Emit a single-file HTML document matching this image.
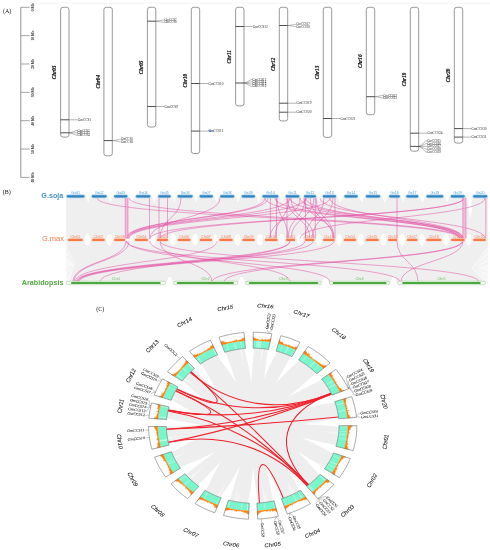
<!DOCTYPE html>
<html><head><meta charset="utf-8"><style>
html,body{margin:0;padding:0;background:#fff;overflow:hidden;}
svg{display:block;}
</style></head><body>
<svg width="490" height="550" viewBox="0 0 490 550">
<rect width="490" height="550" fill="#fff"/>
<line x1="38" y1="3.2" x2="490" y2="3.2" stroke="#f1f1f1" stroke-width="0.8"/>
<text x="3.0" y="12.9" font-family="'Liberation Serif', serif" font-size="6.0" fill="#111">(A)</text>
<line x1="20.8" y1="7.3" x2="20.8" y2="177.4" stroke="#666" stroke-width="0.7"/>
<line x1="20.8" y1="7.30" x2="29.6" y2="7.30" stroke="#666" stroke-width="0.6"/>
<text transform="translate(34.1,7.30) rotate(-90)" text-anchor="middle" font-family="'Liberation Serif', serif" font-size="3.7" fill="#333" stroke="#333" stroke-width="0.12">0 Mb</text>
<line x1="20.8" y1="35.65" x2="29.6" y2="35.65" stroke="#666" stroke-width="0.6"/>
<text transform="translate(34.1,35.65) rotate(-90)" text-anchor="middle" font-family="'Liberation Serif', serif" font-size="3.7" fill="#333" stroke="#333" stroke-width="0.12">10 Mb</text>
<line x1="20.8" y1="64.00" x2="29.6" y2="64.00" stroke="#666" stroke-width="0.6"/>
<text transform="translate(34.1,64.00) rotate(-90)" text-anchor="middle" font-family="'Liberation Serif', serif" font-size="3.7" fill="#333" stroke="#333" stroke-width="0.12">20 Mb</text>
<line x1="20.8" y1="92.35" x2="29.6" y2="92.35" stroke="#666" stroke-width="0.6"/>
<text transform="translate(34.1,92.35) rotate(-90)" text-anchor="middle" font-family="'Liberation Serif', serif" font-size="3.7" fill="#333" stroke="#333" stroke-width="0.12">30 Mb</text>
<line x1="20.8" y1="120.70" x2="29.6" y2="120.70" stroke="#666" stroke-width="0.6"/>
<text transform="translate(34.1,120.70) rotate(-90)" text-anchor="middle" font-family="'Liberation Serif', serif" font-size="3.7" fill="#333" stroke="#333" stroke-width="0.12">40 Mb</text>
<line x1="20.8" y1="149.05" x2="29.6" y2="149.05" stroke="#666" stroke-width="0.6"/>
<text transform="translate(34.1,149.05) rotate(-90)" text-anchor="middle" font-family="'Liberation Serif', serif" font-size="3.7" fill="#333" stroke="#333" stroke-width="0.12">50 Mb</text>
<line x1="20.8" y1="177.40" x2="29.6" y2="177.40" stroke="#666" stroke-width="0.6"/>
<text transform="translate(34.1,177.40) rotate(-90)" text-anchor="middle" font-family="'Liberation Serif', serif" font-size="3.7" fill="#333" stroke="#333" stroke-width="0.12">60 Mb</text>
<rect x="60.6" y="7.3" width="8.4" height="129.79" rx="2.4" fill="#fff" stroke="#777" stroke-width="0.75"/>
<text transform="translate(56.30,72.39) rotate(-90)" text-anchor="middle" font-family="'Liberation Serif', serif" font-weight="bold" font-style="italic" font-size="5.2" fill="#111" stroke="#111" stroke-width="0.16">Chr03</text>
<line x1="60.6" y1="119.8" x2="69.0" y2="119.8" stroke="#222" stroke-width="0.8"/>
<line x1="69.0" y1="119.8" x2="77.5" y2="119.8" stroke="#555" stroke-width="0.45"/>
<text x="77.80" y="121.05" font-family="'Liberation Serif', serif" font-size="3.4" fill="#222">GmCCS1</text>
<line x1="60.6" y1="132.8" x2="69.0" y2="132.8" stroke="#222" stroke-width="0.8"/>
<path d="M69.00 132.8 L70.20 132.8 L76.20 130.50 L77.40 130.50" fill="none" stroke="#555" stroke-width="0.4"/>
<text x="77.60" y="131.50" font-family="'Liberation Serif', serif" font-size="3.1" fill="#222">GmCCS2</text>
<path d="M69.00 132.8 L70.20 132.8 L76.20 132.80 L77.40 132.80" fill="none" stroke="#555" stroke-width="0.4"/>
<text x="77.60" y="133.80" font-family="'Liberation Serif', serif" font-size="3.1" fill="#222">GmCCS3</text>
<path d="M69.00 132.8 L70.20 132.8 L76.20 135.10 L77.40 135.10" fill="none" stroke="#555" stroke-width="0.4"/>
<text x="77.60" y="136.10" font-family="'Liberation Serif', serif" font-size="3.1" fill="#222">GmCCS4</text>
<rect x="103.9" y="7.3" width="8.4" height="148.53" rx="2.4" fill="#fff" stroke="#777" stroke-width="0.75"/>
<text transform="translate(99.60,81.76) rotate(-90)" text-anchor="middle" font-family="'Liberation Serif', serif" font-weight="bold" font-style="italic" font-size="5.2" fill="#111" stroke="#111" stroke-width="0.16">Chr04</text>
<line x1="103.9" y1="140.6" x2="112.30000000000001" y2="140.6" stroke="#222" stroke-width="0.8"/>
<path d="M112.30 140.6 L113.50 140.6 L119.50 139.45 L120.70 139.45" fill="none" stroke="#555" stroke-width="0.4"/>
<text x="120.90" y="140.45" font-family="'Liberation Serif', serif" font-size="3.1" fill="#222">GmCCS5</text>
<path d="M112.30 140.6 L113.50 140.6 L119.50 141.75 L120.70 141.75" fill="none" stroke="#555" stroke-width="0.4"/>
<text x="120.90" y="142.75" font-family="'Liberation Serif', serif" font-size="3.1" fill="#222">GmCCS6</text>
<rect x="147.4" y="7.3" width="8.4" height="119.72" rx="2.4" fill="#fff" stroke="#777" stroke-width="0.75"/>
<text transform="translate(143.10,67.36) rotate(-90)" text-anchor="middle" font-family="'Liberation Serif', serif" font-weight="bold" font-style="italic" font-size="5.2" fill="#111" stroke="#111" stroke-width="0.16">Chr05</text>
<line x1="147.4" y1="21.2" x2="155.8" y2="21.2" stroke="#222" stroke-width="0.8"/>
<path d="M155.80 21.2 L157.00 21.2 L163.00 20.05 L164.20 20.05" fill="none" stroke="#555" stroke-width="0.4"/>
<text x="164.40" y="21.05" font-family="'Liberation Serif', serif" font-size="3.1" fill="#222">GmCCS7</text>
<path d="M155.80 21.2 L157.00 21.2 L163.00 22.35 L164.20 22.35" fill="none" stroke="#555" stroke-width="0.4"/>
<text x="164.40" y="23.35" font-family="'Liberation Serif', serif" font-size="3.1" fill="#222">GmCCS8</text>
<line x1="147.4" y1="106.5" x2="155.8" y2="106.5" stroke="#222" stroke-width="0.8"/>
<line x1="155.8" y1="106.5" x2="164.3" y2="106.5" stroke="#555" stroke-width="0.45"/>
<text x="164.60" y="107.75" font-family="'Liberation Serif', serif" font-size="3.4" fill="#222">GmCCS9</text>
<rect x="191.3" y="7.3" width="8.4" height="146.20" rx="2.4" fill="#fff" stroke="#777" stroke-width="0.75"/>
<text transform="translate(187.00,80.60) rotate(-90)" text-anchor="middle" font-family="'Liberation Serif', serif" font-weight="bold" font-style="italic" font-size="5.2" fill="#111" stroke="#111" stroke-width="0.16">Chr10</text>
<line x1="191.3" y1="83.5" x2="199.70000000000002" y2="83.5" stroke="#222" stroke-width="0.8"/>
<line x1="199.70000000000002" y1="83.5" x2="208.20000000000002" y2="83.5" stroke="#555" stroke-width="0.45"/>
<text x="208.50" y="84.75" font-family="'Liberation Serif', serif" font-size="3.4" fill="#222">GmCCS10</text>
<line x1="191.3" y1="131.1" x2="199.70000000000002" y2="131.1" stroke="#222" stroke-width="0.8"/>
<line x1="199.70000000000002" y1="131.1" x2="208.20000000000002" y2="131.1" stroke="#555" stroke-width="0.45"/>
<text x="208.50" y="132.35" font-family="'Liberation Serif', serif" font-size="3.4" fill="#222">GmCCS11</text>
<rect x="235.6" y="7.3" width="8.4" height="98.57" rx="2.4" fill="#fff" stroke="#777" stroke-width="0.75"/>
<text transform="translate(231.30,56.79) rotate(-90)" text-anchor="middle" font-family="'Liberation Serif', serif" font-weight="bold" font-style="italic" font-size="5.2" fill="#111" stroke="#111" stroke-width="0.16">Chr11</text>
<line x1="235.6" y1="26.5" x2="244.0" y2="26.5" stroke="#222" stroke-width="0.8"/>
<line x1="244.0" y1="26.5" x2="252.5" y2="26.5" stroke="#555" stroke-width="0.45"/>
<text x="252.80" y="27.75" font-family="'Liberation Serif', serif" font-size="3.4" fill="#222">GmCCS12</text>
<line x1="235.6" y1="83.0" x2="244.0" y2="83.0" stroke="#222" stroke-width="0.8"/>
<path d="M244.00 83.0 L245.20 83.0 L251.20 79.55 L252.40 79.55" fill="none" stroke="#555" stroke-width="0.4"/>
<text x="252.60" y="80.55" font-family="'Liberation Serif', serif" font-size="3.1" fill="#222">GmCCS13</text>
<path d="M244.00 83.0 L245.20 83.0 L251.20 81.85 L252.40 81.85" fill="none" stroke="#555" stroke-width="0.4"/>
<text x="252.60" y="82.85" font-family="'Liberation Serif', serif" font-size="3.1" fill="#222">GmCCS14</text>
<path d="M244.00 83.0 L245.20 83.0 L251.20 84.15 L252.40 84.15" fill="none" stroke="#555" stroke-width="0.4"/>
<text x="252.60" y="85.15" font-family="'Liberation Serif', serif" font-size="3.1" fill="#222">GmCCS15</text>
<path d="M244.00 83.0 L245.20 83.0 L251.20 86.45 L252.40 86.45" fill="none" stroke="#555" stroke-width="0.4"/>
<text x="252.60" y="87.45" font-family="'Liberation Serif', serif" font-size="3.1" fill="#222">GmCCS16</text>
<rect x="279.3" y="7.3" width="8.4" height="113.66" rx="2.4" fill="#fff" stroke="#777" stroke-width="0.75"/>
<text transform="translate(275.00,64.33) rotate(-90)" text-anchor="middle" font-family="'Liberation Serif', serif" font-weight="bold" font-style="italic" font-size="5.2" fill="#111" stroke="#111" stroke-width="0.16">Chr12</text>
<line x1="279.3" y1="25.5" x2="287.7" y2="25.5" stroke="#222" stroke-width="0.8"/>
<path d="M287.70 25.5 L288.90 25.5 L294.90 24.35 L296.10 24.35" fill="none" stroke="#555" stroke-width="0.4"/>
<text x="296.30" y="25.35" font-family="'Liberation Serif', serif" font-size="3.1" fill="#222">GmCCS17</text>
<path d="M287.70 25.5 L288.90 25.5 L294.90 26.65 L296.10 26.65" fill="none" stroke="#555" stroke-width="0.4"/>
<text x="296.30" y="27.65" font-family="'Liberation Serif', serif" font-size="3.1" fill="#222">GmCCS18</text>
<line x1="279.3" y1="103.2" x2="287.7" y2="103.2" stroke="#222" stroke-width="0.8"/>
<line x1="287.7" y1="103.2" x2="296.2" y2="103.2" stroke="#555" stroke-width="0.45"/>
<text x="296.50" y="104.45" font-family="'Liberation Serif', serif" font-size="3.4" fill="#222">GmCCS19</text>
<line x1="279.3" y1="112.2" x2="287.7" y2="112.2" stroke="#222" stroke-width="0.8"/>
<line x1="287.7" y1="112.2" x2="296.2" y2="112.2" stroke="#555" stroke-width="0.45"/>
<text x="296.50" y="113.45" font-family="'Liberation Serif', serif" font-size="3.4" fill="#222">GmCCS20</text>
<rect x="323.3" y="7.3" width="8.4" height="130.04" rx="2.4" fill="#fff" stroke="#777" stroke-width="0.75"/>
<text transform="translate(319.00,72.52) rotate(-90)" text-anchor="middle" font-family="'Liberation Serif', serif" font-weight="bold" font-style="italic" font-size="5.2" fill="#111" stroke="#111" stroke-width="0.16">Chr13</text>
<line x1="323.3" y1="118.5" x2="331.7" y2="118.5" stroke="#222" stroke-width="0.8"/>
<line x1="331.7" y1="118.5" x2="340.2" y2="118.5" stroke="#555" stroke-width="0.45"/>
<text x="340.50" y="119.75" font-family="'Liberation Serif', serif" font-size="3.4" fill="#222">GmCCS21</text>
<rect x="366.3" y="7.3" width="8.4" height="107.42" rx="2.4" fill="#fff" stroke="#777" stroke-width="0.75"/>
<text transform="translate(362.00,61.21) rotate(-90)" text-anchor="middle" font-family="'Liberation Serif', serif" font-weight="bold" font-style="italic" font-size="5.2" fill="#111" stroke="#111" stroke-width="0.16">Chr16</text>
<line x1="366.3" y1="96.7" x2="374.7" y2="96.7" stroke="#222" stroke-width="0.8"/>
<path d="M374.70 96.7 L375.90 96.7 L381.90 95.55 L383.10 95.55" fill="none" stroke="#555" stroke-width="0.4"/>
<text x="383.30" y="96.55" font-family="'Liberation Serif', serif" font-size="3.1" fill="#222">GmCCS22</text>
<path d="M374.70 96.7 L375.90 96.7 L381.90 97.85 L383.10 97.85" fill="none" stroke="#555" stroke-width="0.4"/>
<text x="383.30" y="98.85" font-family="'Liberation Serif', serif" font-size="3.1" fill="#222">GmCCS23</text>
<rect x="410.3" y="7.3" width="8.4" height="143.88" rx="2.4" fill="#fff" stroke="#777" stroke-width="0.75"/>
<text transform="translate(406.00,79.44) rotate(-90)" text-anchor="middle" font-family="'Liberation Serif', serif" font-weight="bold" font-style="italic" font-size="5.2" fill="#111" stroke="#111" stroke-width="0.16">Chr19</text>
<line x1="410.3" y1="133.2" x2="418.7" y2="133.2" stroke="#222" stroke-width="0.8"/>
<line x1="418.7" y1="133.2" x2="427.2" y2="133.2" stroke="#555" stroke-width="0.45"/>
<text x="427.50" y="134.45" font-family="'Liberation Serif', serif" font-size="3.4" fill="#222">GmCCS24</text>
<line x1="410.3" y1="146.4" x2="418.7" y2="146.4" stroke="#222" stroke-width="0.8"/>
<path d="M418.70 146.4 L419.90 146.4 L425.90 140.80 L427.10 140.80" fill="none" stroke="#555" stroke-width="0.4"/>
<text x="427.30" y="141.80" font-family="'Liberation Serif', serif" font-size="3.1" fill="#222">GmCCS25</text>
<path d="M418.70 146.4 L419.90 146.4 L425.90 143.60 L427.10 143.60" fill="none" stroke="#555" stroke-width="0.4"/>
<text x="427.30" y="144.60" font-family="'Liberation Serif', serif" font-size="3.1" fill="#222">GmCCS26</text>
<path d="M418.70 146.4 L419.90 146.4 L425.90 146.40 L427.10 146.40" fill="none" stroke="#555" stroke-width="0.4"/>
<text x="427.30" y="147.40" font-family="'Liberation Serif', serif" font-size="3.1" fill="#222">GmCCS27</text>
<path d="M418.70 146.4 L419.90 146.4 L425.90 149.20 L427.10 149.20" fill="none" stroke="#555" stroke-width="0.4"/>
<text x="427.30" y="150.20" font-family="'Liberation Serif', serif" font-size="3.1" fill="#222">GmCCS28</text>
<path d="M418.70 146.4 L419.90 146.4 L425.90 152.00 L427.10 152.00" fill="none" stroke="#555" stroke-width="0.4"/>
<text x="427.30" y="153.00" font-family="'Liberation Serif', serif" font-size="3.1" fill="#222">GmCCS29</text>
<rect x="454.3" y="7.3" width="8.4" height="135.80" rx="2.4" fill="#fff" stroke="#777" stroke-width="0.75"/>
<text transform="translate(450.00,75.40) rotate(-90)" text-anchor="middle" font-family="'Liberation Serif', serif" font-weight="bold" font-style="italic" font-size="5.2" fill="#111" stroke="#111" stroke-width="0.16">Chr20</text>
<line x1="454.3" y1="128.6" x2="462.7" y2="128.6" stroke="#222" stroke-width="0.8"/>
<line x1="462.7" y1="128.6" x2="471.2" y2="128.6" stroke="#555" stroke-width="0.45"/>
<text x="471.50" y="129.85" font-family="'Liberation Serif', serif" font-size="3.4" fill="#222">GmCCS30</text>
<line x1="454.3" y1="137.1" x2="462.7" y2="137.1" stroke="#222" stroke-width="0.8"/>
<line x1="462.7" y1="137.1" x2="471.2" y2="137.1" stroke="#555" stroke-width="0.45"/>
<text x="471.50" y="138.35" font-family="'Liberation Serif', serif" font-size="3.4" fill="#222">GmCCS31</text>
<ellipse cx="210.2" cy="131.1" rx="1.5" ry="1.1" fill="#4f86c2" opacity="0.9"/>
<text x="2.8" y="194.0" font-family="'Liberation Serif', serif" font-size="6.0" fill="#111">(B)</text>
<rect x="66.2" y="197" width="421.8" height="86" fill="#efefef"/>
<path d="M85.70 196 L88.15 202.5 L90.60 196 Z" fill="#fff"/>
<path d="M107.80 196 L110.35 202.5 L112.90 196 Z" fill="#fff"/>
<path d="M128.60 196 L131.65 202.5 L134.70 196 Z" fill="#fff"/>
<path d="M151.60 196 L154.30 202.5 L157.00 196 Z" fill="#fff"/>
<path d="M171.90 196 L174.15 202.5 L176.40 196 Z" fill="#fff"/>
<path d="M193.80 196 L196.10 202.5 L198.40 196 Z" fill="#fff"/>
<path d="M214.10 196 L216.55 202.5 L219.00 196 Z" fill="#fff"/>
<path d="M235.40 196 L237.95 202.5 L240.50 196 Z" fill="#fff"/>
<path d="M256.20 196 L258.75 202.5 L261.30 196 Z" fill="#fff"/>
<path d="M279.50 196 L281.95 202.5 L284.40 196 Z" fill="#fff"/>
<path d="M300.60 196 L301.70 202.5 L302.80 196 Z" fill="#fff"/>
<path d="M317.20 196 L319.40 202.5 L321.60 196 Z" fill="#fff"/>
<path d="M337.30 196 L340.25 202.5 L343.20 196 Z" fill="#fff"/>
<path d="M358.90 196 L361.80 202.5 L364.70 196 Z" fill="#fff"/>
<path d="M381.40 196 L384.65 202.5 L387.90 196 Z" fill="#fff"/>
<path d="M401.10 196 L403.05 202.5 L405.00 196 Z" fill="#fff"/>
<path d="M419.50 196 L422.40 202.5 L425.30 196 Z" fill="#fff"/>
<path d="M444.50 196 L447.05 202.5 L449.60 196 Z" fill="#fff"/>
<path d="M466.00 196 L468.95 202.5 L471.90 196 Z" fill="#fff"/>
<ellipse cx="87.35" cy="239.70" rx="2.92" ry="5.8" fill="#fff"/>
<ellipse cx="109.40" cy="239.70" rx="2.95" ry="5.8" fill="#fff"/>
<ellipse cx="130.00" cy="239.70" rx="3.10" ry="5.8" fill="#fff"/>
<ellipse cx="152.40" cy="239.70" rx="2.81" ry="5.8" fill="#fff"/>
<ellipse cx="172.85" cy="239.70" rx="3.06" ry="5.8" fill="#fff"/>
<ellipse cx="195.15" cy="239.70" rx="2.92" ry="5.8" fill="#fff"/>
<ellipse cx="215.65" cy="239.70" rx="2.12" ry="5.8" fill="#fff"/>
<ellipse cx="237.55" cy="239.70" rx="3.06" ry="5.8" fill="#fff"/>
<ellipse cx="259.85" cy="239.70" rx="3.28" ry="5.8" fill="#fff"/>
<ellipse cx="281.75" cy="239.70" rx="2.63" ry="5.8" fill="#fff"/>
<ellipse cx="300.00" cy="239.70" rx="3.10" ry="5.8" fill="#fff"/>
<ellipse cx="318.65" cy="239.70" rx="2.77" ry="5.8" fill="#fff"/>
<ellipse cx="339.25" cy="239.70" rx="2.92" ry="5.8" fill="#fff"/>
<ellipse cx="361.00" cy="239.70" rx="3.10" ry="5.8" fill="#fff"/>
<ellipse cx="383.35" cy="239.70" rx="2.92" ry="5.8" fill="#fff"/>
<ellipse cx="402.10" cy="239.70" rx="3.02" ry="5.8" fill="#fff"/>
<ellipse cx="421.90" cy="239.70" rx="2.81" ry="5.8" fill="#fff"/>
<ellipse cx="446.20" cy="239.70" rx="3.10" ry="5.8" fill="#fff"/>
<ellipse cx="468.95" cy="239.70" rx="2.63" ry="5.8" fill="#fff"/>
<path d="M165.80 284 L168.65 277 L170.65 277 L173.50 284 Z" fill="#fff"/>
<path d="M237.90 284 L240.70 277 L242.70 277 L245.50 284 Z" fill="#fff"/>
<path d="M321.30 284 L324.30 277 L326.30 277 L329.30 284 Z" fill="#fff"/>
<path d="M389.80 284 L392.65 277 L394.65 277 L397.50 284 Z" fill="#fff"/>
<path d="M66 246 L75 263 L69 282 L66 282 Z" fill="#f8f8f8"/>
<line x1="66" y1="250" x2="73" y2="262" stroke="#e8e8e8" stroke-width="0.6"/>
<line x1="66" y1="256" x2="74" y2="264" stroke="#e8e8e8" stroke-width="0.6"/>
<line x1="66" y1="270" x2="72" y2="266" stroke="#e8e8e8" stroke-width="0.6"/>
<line x1="67" y1="276" x2="73" y2="267" stroke="#e8e8e8" stroke-width="0.6"/>
<path d="M488.5 246 L471 268 L485 282 L488.5 282 Z" fill="#f7f7f7"/>
<line x1="488" y1="250" x2="473" y2="267" stroke="#e9e9e9" stroke-width="0.6"/>
<line x1="488" y1="256" x2="474" y2="268" stroke="#e9e9e9" stroke-width="0.6"/>
<line x1="488" y1="263" x2="474" y2="269" stroke="#e9e9e9" stroke-width="0.6"/>
<line x1="487" y1="272" x2="475" y2="269" stroke="#e9e9e9" stroke-width="0.6"/>
<line x1="486" y1="278" x2="476" y2="270" stroke="#e9e9e9" stroke-width="0.6"/>
<path d="M467.2 197 L471.8 197 Q470.6 203 472 209 Q471.2 214 470.2 219 Q469.4 214 468.6 209 Q467.6 203 467.2 197 Z" fill="#fff"/>
<path d="M97 198.0 C97 218.25 460 218.25 460 238.5" fill="none" stroke="#e2449f" stroke-width="0.6" stroke-opacity="0.8"/>
<path d="M129 198.0 C129 218.25 462 218.25 462 238.5" fill="none" stroke="#e2449f" stroke-width="0.6" stroke-opacity="0.8"/>
<path d="M149.5 198.0 C149.5 218.25 149.5 218.25 149.5 238.5" fill="none" stroke="#e2449f" stroke-width="0.6" stroke-opacity="0.8"/>
<path d="M159 198.0 C159 218.25 159 218.25 159 238.5" fill="none" stroke="#e2449f" stroke-width="0.6" stroke-opacity="0.8"/>
<path d="M167.5 198.0 C167.5 218.25 167.5 218.25 167.5 238.5" fill="none" stroke="#e2449f" stroke-width="0.6" stroke-opacity="0.8"/>
<path d="M181 198.0 C181 218.25 160 218.25 160 238.5" fill="none" stroke="#e2449f" stroke-width="0.6" stroke-opacity="0.8"/>
<path d="M220 198.0 C220 218.25 150 218.25 150 238.5" fill="none" stroke="#e2449f" stroke-width="0.6" stroke-opacity="0.8"/>
<path d="M265 198.0 C265 218.25 126 218.25 126 238.5" fill="none" stroke="#e2449f" stroke-width="0.6" stroke-opacity="0.8"/>
<path d="M268 198.0 C268 218.25 127 218.25 127 238.5" fill="none" stroke="#e2449f" stroke-width="0.6" stroke-opacity="0.8"/>
<path d="M290 198.0 C290 218.25 127.5 218.25 127.5 238.5" fill="none" stroke="#e2449f" stroke-width="0.6" stroke-opacity="0.8"/>
<path d="M306 198.0 C306 218.25 128.5 218.25 128.5 238.5" fill="none" stroke="#e2449f" stroke-width="0.6" stroke-opacity="0.8"/>
<path d="M330 198.0 C330 218.25 129 218.25 129 238.5" fill="none" stroke="#e2449f" stroke-width="0.6" stroke-opacity="0.8"/>
<path d="M270.4 198.0 C270.4 218.25 270.4 218.25 270.4 238.5" fill="none" stroke="#e2449f" stroke-width="0.6" stroke-opacity="0.8"/>
<path d="M276.5 198.0 C276.5 218.25 276.5 218.25 276.5 238.5" fill="none" stroke="#e2449f" stroke-width="0.6" stroke-opacity="0.8"/>
<path d="M287 198.0 C287 218.25 287 218.25 287 238.5" fill="none" stroke="#e2449f" stroke-width="0.6" stroke-opacity="0.8"/>
<path d="M305.5 198.0 C305.5 218.25 305.5 218.25 305.5 238.5" fill="none" stroke="#e2449f" stroke-width="0.6" stroke-opacity="0.8"/>
<path d="M315.3 198.0 C315.3 218.25 315.3 218.25 315.3 238.5" fill="none" stroke="#e2449f" stroke-width="0.6" stroke-opacity="0.8"/>
<path d="M335 198.0 C335 218.25 335 218.25 335 238.5" fill="none" stroke="#e2449f" stroke-width="0.6" stroke-opacity="0.8"/>
<path d="M287 198.0 C287 218.25 310 218.25 310 238.5" fill="none" stroke="#e2449f" stroke-width="0.6" stroke-opacity="0.8"/>
<path d="M305 198.0 C305 218.25 288 218.25 288 238.5" fill="none" stroke="#e2449f" stroke-width="0.6" stroke-opacity="0.8"/>
<path d="M310 198.0 C310 218.25 333 218.25 333 238.5" fill="none" stroke="#e2449f" stroke-width="0.6" stroke-opacity="0.8"/>
<path d="M333 198.0 C333 218.25 312 218.25 312 238.5" fill="none" stroke="#e2449f" stroke-width="0.6" stroke-opacity="0.8"/>
<path d="M277 198.0 C277 218.25 288 218.25 288 238.5" fill="none" stroke="#e2449f" stroke-width="0.6" stroke-opacity="0.8"/>
<path d="M289 198.0 C289 218.25 275 218.25 275 238.5" fill="none" stroke="#e2449f" stroke-width="0.6" stroke-opacity="0.8"/>
<path d="M291 198.0 C291 218.25 314 218.25 314 238.5" fill="none" stroke="#e2449f" stroke-width="0.6" stroke-opacity="0.8"/>
<path d="M314 198.0 C314 218.25 291 218.25 291 238.5" fill="none" stroke="#e2449f" stroke-width="0.6" stroke-opacity="0.8"/>
<path d="M304 198.0 C304 218.25 334 218.25 334 238.5" fill="none" stroke="#e2449f" stroke-width="0.6" stroke-opacity="0.8"/>
<path d="M324 198.0 C324 218.25 305 218.25 305 238.5" fill="none" stroke="#e2449f" stroke-width="0.6" stroke-opacity="0.8"/>
<path d="M316 198.0 C316 218.25 334 218.25 334 238.5" fill="none" stroke="#e2449f" stroke-width="0.6" stroke-opacity="0.8"/>
<path d="M300 198.0 C300 218.25 270 218.25 270 238.5" fill="none" stroke="#e2449f" stroke-width="0.6" stroke-opacity="0.8"/>
<path d="M397 198.0 C397 218.25 397 218.25 397 238.5" fill="none" stroke="#e2449f" stroke-width="0.6" stroke-opacity="0.8"/>
<path d="M464 198.0 C464 218.25 160 218.25 160 238.5" fill="none" stroke="#e2449f" stroke-width="0.6" stroke-opacity="0.8"/>
<path d="M464 198.0 C464 218.25 150 218.25 150 238.5" fill="none" stroke="#e2449f" stroke-width="0.6" stroke-opacity="0.8"/>
<path d="M485 198.0 C485 218.25 300 218.25 300 238.5" fill="none" stroke="#e2449f" stroke-width="0.6" stroke-opacity="0.8"/>
<path d="M265 198.0 C265 218.25 460 218.25 460 238.5" fill="none" stroke="#e2449f" stroke-width="0.6" stroke-opacity="0.8"/>
<path d="M290 198.0 C290 218.25 461 218.25 461 238.5" fill="none" stroke="#e2449f" stroke-width="0.6" stroke-opacity="0.8"/>
<path d="M306 198.0 C306 218.25 462 218.25 462 238.5" fill="none" stroke="#e2449f" stroke-width="0.6" stroke-opacity="0.8"/>
<path d="M330 198.0 C330 218.25 463 218.25 463 238.5" fill="none" stroke="#e2449f" stroke-width="0.6" stroke-opacity="0.8"/>
<path d="M320 198.0 C320 218.25 485 218.25 485 238.5" fill="none" stroke="#e2449f" stroke-width="0.6" stroke-opacity="0.8"/>
<path d="M300 198.0 C300 218.25 463 218.25 463 238.5" fill="none" stroke="#e2449f" stroke-width="0.6" stroke-opacity="0.8"/>
<path d="M275 198.0 C275 218.25 459 218.25 459 238.5" fill="none" stroke="#e2449f" stroke-width="0.6" stroke-opacity="0.8"/>
<path d="M485.8 198.0 C485.8 218.25 485.8 218.25 485.8 238.5" fill="none" stroke="#e2449f" stroke-width="0.6" stroke-opacity="0.8"/>
<rect x="125.2" y="198.0" width="2.80" height="40.5" fill="#f4a6d0" fill-opacity="0.7"/>
<line x1="125.2" y1="198.0" x2="125.2" y2="238.5" stroke="#e2449f" stroke-width="0.5" stroke-opacity="0.8"/>
<line x1="128.0" y1="198.0" x2="128.0" y2="238.5" stroke="#e2449f" stroke-width="0.5" stroke-opacity="0.8"/>
<rect x="462.8" y="198.0" width="3.20" height="40.5" fill="#f4a6d0" fill-opacity="0.7"/>
<line x1="462.8" y1="198.0" x2="462.8" y2="238.5" stroke="#e2449f" stroke-width="0.5" stroke-opacity="0.8"/>
<line x1="466.0" y1="198.0" x2="466.0" y2="238.5" stroke="#e2449f" stroke-width="0.5" stroke-opacity="0.8"/>
<path d="M126 241.0 C126 261.5 73 261.5 73 282.0" fill="none" stroke="#e2449f" stroke-width="0.6" stroke-opacity="0.8"/>
<path d="M129 241.0 C129 261.5 74 261.5 74 282.0" fill="none" stroke="#e2449f" stroke-width="0.6" stroke-opacity="0.8"/>
<path d="M217 241.0 C217 261.5 75 261.5 75 282.0" fill="none" stroke="#e2449f" stroke-width="0.6" stroke-opacity="0.8"/>
<path d="M290 241.0 C290 261.5 76 261.5 76 282.0" fill="none" stroke="#e2449f" stroke-width="0.6" stroke-opacity="0.8"/>
<path d="M305 241.0 C305 261.5 77 261.5 77 282.0" fill="none" stroke="#e2449f" stroke-width="0.6" stroke-opacity="0.8"/>
<path d="M313 241.0 C313 261.5 78 261.5 78 282.0" fill="none" stroke="#e2449f" stroke-width="0.6" stroke-opacity="0.8"/>
<path d="M334 241.0 C334 261.5 79 261.5 79 282.0" fill="none" stroke="#e2449f" stroke-width="0.6" stroke-opacity="0.8"/>
<path d="M290 241.0 C290 261.5 100 261.5 100 282.0" fill="none" stroke="#e2449f" stroke-width="0.6" stroke-opacity="0.8"/>
<path d="M160 241.0 C160 261.5 212 261.5 212 282.0" fill="none" stroke="#e2449f" stroke-width="0.6" stroke-opacity="0.8"/>
<path d="M462 241.0 C462 261.5 212 261.5 212 282.0" fill="none" stroke="#e2449f" stroke-width="0.6" stroke-opacity="0.8"/>
<path d="M463 241.0 C463 261.5 224 261.5 224 282.0" fill="none" stroke="#e2449f" stroke-width="0.6" stroke-opacity="0.8"/>
<path d="M127 241.0 C127 261.5 330 261.5 330 282.0" fill="none" stroke="#e2449f" stroke-width="0.6" stroke-opacity="0.8"/>
<path d="M397 241.0 C397 261.5 418 261.5 418 282.0" fill="none" stroke="#e2449f" stroke-width="0.6" stroke-opacity="0.8"/>
<path d="M463 241.0 C463 261.5 401 261.5 401 282.0" fill="none" stroke="#e2449f" stroke-width="0.6" stroke-opacity="0.8"/>
<path d="M160 241.0 C160 261.5 479 261.5 479 282.0" fill="none" stroke="#e2449f" stroke-width="0.6" stroke-opacity="0.8"/>
<path d="M126 241.0 C126 261.5 400 261.5 400 282.0" fill="none" stroke="#e2449f" stroke-width="0.6" stroke-opacity="0.8"/>
<path d="M150 241.0 C150 261.5 290 261.5 290 282.0" fill="none" stroke="#e2449f" stroke-width="0.6" stroke-opacity="0.8"/>
<rect x="66.10" y="194.25" width="19.10" height="4.10" rx="2.05" fill="#b4d8ef"/>
<rect x="66.80" y="195.15" width="17.70" height="2.30" rx="1.15" fill="#2f83bf"/>
<text x="75.65" y="194.20" text-anchor="middle" font-family="'Liberation Sans', sans-serif" font-size="3.6" fill="#4a98cf">Gs01</text>
<rect x="91.10" y="194.25" width="16.20" height="4.10" rx="2.05" fill="#b4d8ef"/>
<rect x="91.80" y="195.15" width="14.80" height="2.30" rx="1.15" fill="#2f83bf"/>
<text x="99.20" y="194.20" text-anchor="middle" font-family="'Liberation Sans', sans-serif" font-size="3.6" fill="#4a98cf">Gs02</text>
<rect x="113.40" y="194.25" width="14.70" height="4.10" rx="2.05" fill="#b4d8ef"/>
<rect x="114.10" y="195.15" width="13.30" height="2.30" rx="1.15" fill="#2f83bf"/>
<text x="120.75" y="194.20" text-anchor="middle" font-family="'Liberation Sans', sans-serif" font-size="3.6" fill="#4a98cf">Gs03</text>
<rect x="135.20" y="194.25" width="15.90" height="4.10" rx="2.05" fill="#b4d8ef"/>
<rect x="135.90" y="195.15" width="14.50" height="2.30" rx="1.15" fill="#2f83bf"/>
<text x="143.15" y="194.20" text-anchor="middle" font-family="'Liberation Sans', sans-serif" font-size="3.6" fill="#4a98cf">Gs04</text>
<rect x="157.50" y="194.25" width="13.90" height="4.10" rx="2.05" fill="#b4d8ef"/>
<rect x="158.20" y="195.15" width="12.50" height="2.30" rx="1.15" fill="#2f83bf"/>
<text x="164.45" y="194.20" text-anchor="middle" font-family="'Liberation Sans', sans-serif" font-size="3.6" fill="#4a98cf">Gs05</text>
<rect x="176.90" y="194.25" width="16.40" height="4.10" rx="2.05" fill="#b4d8ef"/>
<rect x="177.60" y="195.15" width="15.00" height="2.30" rx="1.15" fill="#2f83bf"/>
<text x="185.10" y="194.20" text-anchor="middle" font-family="'Liberation Sans', sans-serif" font-size="3.6" fill="#4a98cf">Gs06</text>
<rect x="198.90" y="194.25" width="14.70" height="4.10" rx="2.05" fill="#b4d8ef"/>
<rect x="199.60" y="195.15" width="13.30" height="2.30" rx="1.15" fill="#2f83bf"/>
<text x="206.25" y="194.20" text-anchor="middle" font-family="'Liberation Sans', sans-serif" font-size="3.6" fill="#4a98cf">Gs07</text>
<rect x="219.50" y="194.25" width="15.40" height="4.10" rx="2.05" fill="#b4d8ef"/>
<rect x="220.20" y="195.15" width="14.00" height="2.30" rx="1.15" fill="#2f83bf"/>
<text x="227.20" y="194.20" text-anchor="middle" font-family="'Liberation Sans', sans-serif" font-size="3.6" fill="#4a98cf">Gs08</text>
<rect x="241.00" y="194.25" width="14.70" height="4.10" rx="2.05" fill="#b4d8ef"/>
<rect x="241.70" y="195.15" width="13.30" height="2.30" rx="1.15" fill="#2f83bf"/>
<text x="248.35" y="194.20" text-anchor="middle" font-family="'Liberation Sans', sans-serif" font-size="3.6" fill="#4a98cf">Gs09</text>
<rect x="261.80" y="194.25" width="17.20" height="4.10" rx="2.05" fill="#b4d8ef"/>
<rect x="262.50" y="195.15" width="15.80" height="2.30" rx="1.15" fill="#2f83bf"/>
<text x="270.40" y="194.20" text-anchor="middle" font-family="'Liberation Sans', sans-serif" font-size="3.6" fill="#4a98cf">Gs10</text>
<rect x="284.90" y="194.25" width="15.20" height="4.10" rx="2.05" fill="#b4d8ef"/>
<rect x="285.60" y="195.15" width="13.80" height="2.30" rx="1.15" fill="#2f83bf"/>
<text x="292.50" y="194.20" text-anchor="middle" font-family="'Liberation Sans', sans-serif" font-size="3.6" fill="#4a98cf">Gs11</text>
<rect x="303.30" y="194.25" width="13.40" height="4.10" rx="2.05" fill="#b4d8ef"/>
<rect x="304.00" y="195.15" width="12.00" height="2.30" rx="1.15" fill="#2f83bf"/>
<text x="310.00" y="194.20" text-anchor="middle" font-family="'Liberation Sans', sans-serif" font-size="3.6" fill="#4a98cf">Gs12</text>
<rect x="322.10" y="194.25" width="14.70" height="4.10" rx="2.05" fill="#b4d8ef"/>
<rect x="322.80" y="195.15" width="13.30" height="2.30" rx="1.15" fill="#2f83bf"/>
<text x="329.45" y="194.20" text-anchor="middle" font-family="'Liberation Sans', sans-serif" font-size="3.6" fill="#4a98cf">Gs13</text>
<rect x="343.70" y="194.25" width="14.70" height="4.10" rx="2.05" fill="#b4d8ef"/>
<rect x="344.40" y="195.15" width="13.30" height="2.30" rx="1.15" fill="#2f83bf"/>
<text x="351.05" y="194.20" text-anchor="middle" font-family="'Liberation Sans', sans-serif" font-size="3.6" fill="#4a98cf">Gs14</text>
<rect x="365.20" y="194.25" width="15.70" height="4.10" rx="2.05" fill="#b4d8ef"/>
<rect x="365.90" y="195.15" width="14.30" height="2.30" rx="1.15" fill="#2f83bf"/>
<text x="373.05" y="194.20" text-anchor="middle" font-family="'Liberation Sans', sans-serif" font-size="3.6" fill="#4a98cf">Gs15</text>
<rect x="388.40" y="194.25" width="12.20" height="4.10" rx="2.05" fill="#b4d8ef"/>
<rect x="389.10" y="195.15" width="10.80" height="2.30" rx="1.15" fill="#2f83bf"/>
<text x="394.50" y="194.20" text-anchor="middle" font-family="'Liberation Sans', sans-serif" font-size="3.6" fill="#4a98cf">Gs16</text>
<rect x="405.50" y="194.25" width="13.50" height="4.10" rx="2.05" fill="#b4d8ef"/>
<rect x="406.20" y="195.15" width="12.10" height="2.30" rx="1.15" fill="#2f83bf"/>
<text x="412.25" y="194.20" text-anchor="middle" font-family="'Liberation Sans', sans-serif" font-size="3.6" fill="#4a98cf">Gs17</text>
<rect x="425.80" y="194.25" width="18.20" height="4.10" rx="2.05" fill="#b4d8ef"/>
<rect x="426.50" y="195.15" width="16.80" height="2.30" rx="1.15" fill="#2f83bf"/>
<text x="434.90" y="194.20" text-anchor="middle" font-family="'Liberation Sans', sans-serif" font-size="3.6" fill="#4a98cf">Gs18</text>
<rect x="450.10" y="194.25" width="15.40" height="4.10" rx="2.05" fill="#b4d8ef"/>
<rect x="450.80" y="195.15" width="14.00" height="2.30" rx="1.15" fill="#2f83bf"/>
<text x="457.80" y="194.20" text-anchor="middle" font-family="'Liberation Sans', sans-serif" font-size="3.6" fill="#4a98cf">Gs19</text>
<rect x="472.40" y="194.25" width="15.60" height="4.10" rx="2.05" fill="#b4d8ef"/>
<rect x="473.10" y="195.15" width="14.20" height="2.30" rx="1.15" fill="#2f83bf"/>
<text x="480.20" y="194.20" text-anchor="middle" font-family="'Liberation Sans', sans-serif" font-size="3.6" fill="#4a98cf">Gs20</text>
<rect x="67.40" y="238.40" width="15.90" height="3.00" rx="1.50" fill="#fcd2bf"/>
<rect x="68.10" y="238.85" width="14.50" height="2.10" rx="0.70" fill="#f67a44"/>
<text x="75.35" y="237.80" text-anchor="middle" font-family="'Liberation Sans', sans-serif" font-size="3.6" fill="#f5845a">Chr01</text>
<rect x="91.40" y="238.40" width="13.90" height="3.00" rx="1.50" fill="#fcd2bf"/>
<rect x="92.10" y="238.85" width="12.50" height="2.10" rx="0.70" fill="#f67a44"/>
<text x="98.35" y="237.80" text-anchor="middle" font-family="'Liberation Sans', sans-serif" font-size="3.6" fill="#f5845a">Chr02</text>
<rect x="113.50" y="238.40" width="12.20" height="3.00" rx="1.50" fill="#fcd2bf"/>
<rect x="114.20" y="238.85" width="10.80" height="2.10" rx="0.70" fill="#f67a44"/>
<text x="119.60" y="237.80" text-anchor="middle" font-family="'Liberation Sans', sans-serif" font-size="3.6" fill="#f5845a">Chr03</text>
<rect x="134.30" y="238.40" width="14.20" height="3.00" rx="1.50" fill="#fcd2bf"/>
<rect x="135.00" y="238.85" width="12.80" height="2.10" rx="0.70" fill="#f67a44"/>
<text x="141.40" y="237.80" text-anchor="middle" font-family="'Liberation Sans', sans-serif" font-size="3.6" fill="#f5845a">Chr04</text>
<rect x="156.30" y="238.40" width="12.30" height="3.00" rx="1.50" fill="#fcd2bf"/>
<rect x="157.00" y="238.85" width="10.90" height="2.10" rx="0.70" fill="#f67a44"/>
<text x="162.45" y="237.80" text-anchor="middle" font-family="'Liberation Sans', sans-serif" font-size="3.6" fill="#f5845a">Chr05</text>
<rect x="177.10" y="238.40" width="14.00" height="3.00" rx="1.50" fill="#fcd2bf"/>
<rect x="177.80" y="238.85" width="12.60" height="2.10" rx="0.70" fill="#f67a44"/>
<text x="184.10" y="237.80" text-anchor="middle" font-family="'Liberation Sans', sans-serif" font-size="3.6" fill="#f5845a">Chr06</text>
<rect x="199.20" y="238.40" width="13.50" height="3.00" rx="1.50" fill="#fcd2bf"/>
<rect x="199.90" y="238.85" width="12.10" height="2.10" rx="0.70" fill="#f67a44"/>
<text x="205.95" y="237.80" text-anchor="middle" font-family="'Liberation Sans', sans-serif" font-size="3.6" fill="#f5845a">Chr07</text>
<rect x="218.60" y="238.40" width="14.70" height="3.00" rx="1.50" fill="#fcd2bf"/>
<rect x="219.30" y="238.85" width="13.30" height="2.10" rx="0.70" fill="#f67a44"/>
<text x="225.95" y="237.80" text-anchor="middle" font-family="'Liberation Sans', sans-serif" font-size="3.6" fill="#f5845a">Chr08</text>
<rect x="241.80" y="238.40" width="13.50" height="3.00" rx="1.50" fill="#fcd2bf"/>
<rect x="242.50" y="238.85" width="12.10" height="2.10" rx="0.70" fill="#f67a44"/>
<text x="248.55" y="237.80" text-anchor="middle" font-family="'Liberation Sans', sans-serif" font-size="3.6" fill="#f5845a">Chr09</text>
<rect x="264.40" y="238.40" width="13.70" height="3.00" rx="1.50" fill="#fcd2bf"/>
<rect x="265.10" y="238.85" width="12.30" height="2.10" rx="0.70" fill="#f67a44"/>
<text x="271.25" y="237.80" text-anchor="middle" font-family="'Liberation Sans', sans-serif" font-size="3.6" fill="#f5845a">Chr10</text>
<rect x="285.40" y="238.40" width="10.30" height="3.00" rx="1.50" fill="#fcd2bf"/>
<rect x="286.10" y="238.85" width="8.90" height="2.10" rx="0.70" fill="#f67a44"/>
<text x="290.55" y="237.80" text-anchor="middle" font-family="'Liberation Sans', sans-serif" font-size="3.6" fill="#f5845a">Chr11</text>
<rect x="304.30" y="238.40" width="10.50" height="3.00" rx="1.50" fill="#fcd2bf"/>
<rect x="305.00" y="238.85" width="9.10" height="2.10" rx="0.70" fill="#f67a44"/>
<text x="309.55" y="237.80" text-anchor="middle" font-family="'Liberation Sans', sans-serif" font-size="3.6" fill="#f5845a">Chr12</text>
<rect x="322.50" y="238.40" width="12.70" height="3.00" rx="1.50" fill="#fcd2bf"/>
<rect x="323.20" y="238.85" width="11.30" height="2.10" rx="0.70" fill="#f67a44"/>
<text x="328.85" y="237.80" text-anchor="middle" font-family="'Liberation Sans', sans-serif" font-size="3.6" fill="#f5845a">Chr13</text>
<rect x="343.30" y="238.40" width="13.40" height="3.00" rx="1.50" fill="#fcd2bf"/>
<rect x="344.00" y="238.85" width="12.00" height="2.10" rx="0.70" fill="#f67a44"/>
<text x="350.00" y="237.80" text-anchor="middle" font-family="'Liberation Sans', sans-serif" font-size="3.6" fill="#f5845a">Chr14</text>
<rect x="365.30" y="238.40" width="14.00" height="3.00" rx="1.50" fill="#fcd2bf"/>
<rect x="366.00" y="238.85" width="12.60" height="2.10" rx="0.70" fill="#f67a44"/>
<text x="372.30" y="237.80" text-anchor="middle" font-family="'Liberation Sans', sans-serif" font-size="3.6" fill="#f5845a">Chr15</text>
<rect x="387.40" y="238.40" width="10.50" height="3.00" rx="1.50" fill="#fcd2bf"/>
<rect x="388.10" y="238.85" width="9.10" height="2.10" rx="0.70" fill="#f67a44"/>
<text x="392.65" y="237.80" text-anchor="middle" font-family="'Liberation Sans', sans-serif" font-size="3.6" fill="#f5845a">Chr16</text>
<rect x="406.30" y="238.40" width="11.70" height="3.00" rx="1.50" fill="#fcd2bf"/>
<rect x="407.00" y="238.85" width="10.30" height="2.10" rx="0.70" fill="#f67a44"/>
<text x="412.15" y="237.80" text-anchor="middle" font-family="'Liberation Sans', sans-serif" font-size="3.6" fill="#f5845a">Chr17</text>
<rect x="425.80" y="238.40" width="16.10" height="3.00" rx="1.50" fill="#fcd2bf"/>
<rect x="426.50" y="238.85" width="14.70" height="2.10" rx="0.70" fill="#f67a44"/>
<text x="433.85" y="237.80" text-anchor="middle" font-family="'Liberation Sans', sans-serif" font-size="3.6" fill="#f5845a">Chr18</text>
<rect x="450.50" y="238.40" width="14.80" height="3.00" rx="1.50" fill="#fcd2bf"/>
<rect x="451.20" y="238.85" width="13.40" height="2.10" rx="0.70" fill="#f67a44"/>
<text x="457.90" y="237.80" text-anchor="middle" font-family="'Liberation Sans', sans-serif" font-size="3.6" fill="#f5845a">Chr19</text>
<rect x="472.60" y="238.40" width="13.80" height="3.00" rx="1.50" fill="#fcd2bf"/>
<rect x="473.30" y="238.85" width="12.40" height="2.10" rx="0.70" fill="#f67a44"/>
<text x="479.50" y="237.80" text-anchor="middle" font-family="'Liberation Sans', sans-serif" font-size="3.6" fill="#f5845a">Chr20</text>
<rect x="66.10" y="281.25" width="99.70" height="3.5" rx="1.75" fill="#fff" stroke="#9fcf94" stroke-width="0.6"/>
<rect x="71.00" y="282.00" width="89.80" height="2.0" rx="1" fill="#4aa83f"/>
<text x="115.95" y="279.80" text-anchor="middle" font-family="'Liberation Sans', sans-serif" font-size="3.8" fill="#6cbf60">Chr1</text>
<rect x="173.50" y="281.25" width="64.40" height="3.5" rx="1.75" fill="#fff" stroke="#9fcf94" stroke-width="0.6"/>
<rect x="176.70" y="282.00" width="57.30" height="2.0" rx="1" fill="#4aa83f"/>
<text x="205.70" y="279.80" text-anchor="middle" font-family="'Liberation Sans', sans-serif" font-size="3.8" fill="#6cbf60">Chr2</text>
<rect x="245.50" y="281.25" width="75.80" height="3.5" rx="1.75" fill="#fff" stroke="#9fcf94" stroke-width="0.6"/>
<rect x="248.60" y="282.00" width="69.80" height="2.0" rx="1" fill="#4aa83f"/>
<text x="283.40" y="279.80" text-anchor="middle" font-family="'Liberation Sans', sans-serif" font-size="3.8" fill="#6cbf60">Chr3</text>
<rect x="329.30" y="281.25" width="60.50" height="3.5" rx="1.75" fill="#fff" stroke="#9fcf94" stroke-width="0.6"/>
<rect x="332.70" y="282.00" width="53.90" height="2.0" rx="1" fill="#4aa83f"/>
<text x="359.55" y="279.80" text-anchor="middle" font-family="'Liberation Sans', sans-serif" font-size="3.8" fill="#6cbf60">Chr4</text>
<rect x="397.50" y="281.25" width="88.00" height="3.5" rx="1.75" fill="#fff" stroke="#9fcf94" stroke-width="0.6"/>
<rect x="402.20" y="282.00" width="78.60" height="2.0" rx="1" fill="#4aa83f"/>
<text x="441.50" y="279.80" text-anchor="middle" font-family="'Liberation Sans', sans-serif" font-size="3.8" fill="#6cbf60">Chr5</text>
<text x="63.3" y="198.3" text-anchor="end" font-family="'Liberation Sans', sans-serif" font-weight="bold" font-size="7.2" fill="#4593c9">G.soja</text>
<text x="64.0" y="241.3" text-anchor="end" font-family="'Liberation Sans', sans-serif" font-size="7.5" fill="#f47a45">G.max</text>
<text x="63.4" y="285.4" text-anchor="end" font-family="'Liberation Sans', sans-serif" font-weight="bold" font-size="7.2" fill="#55a845">Arabidopsis</text>
<text x="96.2" y="310.5" font-family="'Liberation Serif', serif" font-size="6.0" fill="#111">(C)</text>
<ellipse cx="252.7" cy="425.7" rx="86.34" ry="77.50" fill="#eeeeee"/>
<path d="M337.31 445.55 Q318.70 441.69 301.33 437.56 Q317.68 444.77 334.15 454.28 Z" fill="#fff"/>
<path d="M326.08 468.40 Q311.50 460.10 298.08 452.04 Q309.42 462.81 320.03 475.79 Z" fill="#fff"/>
<path d="M308.33 486.27 Q295.70 474.77 284.62 463.41 Q292.78 476.72 300.08 491.68 Z" fill="#fff"/>
<path d="M282.85 499.39 Q273.68 482.71 266.37 466.47 Q270.33 483.62 273.06 502.04 Z" fill="#fff"/>
<path d="M258.17 504.05 Q255.03 485.60 253.33 468.07 Q251.54 485.63 247.95 504.08 Z" fill="#fff"/>
<path d="M229.34 501.35 Q234.58 483.56 239.94 466.83 Q231.23 482.63 219.67 498.39 Z" fill="#fff"/>
<path d="M205.43 491.74 Q212.30 475.83 220.50 461.80 Q209.44 473.87 197.17 486.34 Z" fill="#fff"/>
<path d="M184.91 475.29 Q200.02 463.22 214.76 452.34 Q197.90 460.70 178.93 467.85 Z" fill="#fff"/>
<path d="M170.75 453.11 Q185.63 443.87 200.41 436.97 Q184.66 440.69 167.75 444.34 Z" fill="#fff"/>
<path d="M165.27 427.50 Q182.92 425.57 199.49 424.69 Q183.03 422.29 165.64 418.33 Z" fill="#fff"/>
<path d="M167.57 407.73 Q182.62 410.86 196.50 414.09 Q183.58 407.59 170.49 398.94 Z" fill="#fff"/>
<path d="M176.39 387.36 Q191.07 393.45 204.35 399.72 Q193.03 390.60 181.89 379.63 Z" fill="#fff"/>
<path d="M192.84 368.48 Q206.86 381.39 219.75 393.88 Q209.51 379.29 200.68 362.60 Z" fill="#fff"/>
<path d="M216.06 354.42 Q227.50 368.73 236.44 383.04 Q230.86 367.63 225.57 351.07 Z" fill="#fff"/>
<path d="M244.16 347.57 Q248.66 365.15 251.34 381.91 Q252.20 365.05 254.38 347.21 Z" fill="#fff"/>
<path d="M267.58 348.34 Q266.24 363.94 264.02 378.39 Q269.83 364.66 277.53 350.43 Z" fill="#fff"/>
<path d="M291.33 355.27 Q283.56 369.69 275.94 383.05 Q286.78 371.21 300.22 359.80 Z" fill="#fff"/>
<path d="M316.75 372.25 Q302.22 385.33 288.01 397.24 Q304.51 387.72 323.26 379.32 Z" fill="#fff"/>
<path d="M332.58 393.75 Q317.72 401.57 303.37 408.01 Q319.03 404.66 336.18 402.33 Z" fill="#fff"/>
<path d="M339.69 417.63 Q320.87 421.73 302.96 424.23 Q321.01 424.94 340.14 426.80 Z" fill="#fff"/>
<path d="M338.65 432.99 L318.18 430.55 L338.46 434.61 Z" fill="#f7f7f7"/>
<path d="M294.99 493.27 L286.53 479.69 L293.40 494.05 Z" fill="#f7f7f7"/>
<path d="M292.78 494.34 L286.64 481.19 L291.17 495.08 Z" fill="#f7f7f7"/>
<path d="M267.42 502.06 L266.05 489.67 L265.64 502.32 Z" fill="#f7f7f7"/>
<path d="M266.53 502.20 L261.40 481.63 L264.74 502.44 Z" fill="#f7f7f7"/>
<path d="M238.45 502.14 L240.65 491.32 L236.67 501.85 Z" fill="#f7f7f7"/>
<path d="M236.45 501.82 L238.36 487.51 L234.68 501.49 Z" fill="#f7f7f7"/>
<path d="M219.08 497.08 L228.25 478.44 L217.42 496.43 Z" fill="#f7f7f7"/>
<path d="M190.42 479.38 L206.05 463.97 L189.18 478.19 Z" fill="#f7f7f7"/>
<path d="M190.60 479.54 L196.58 471.25 L189.36 478.36 Z" fill="#f7f7f7"/>
<path d="M174.29 458.14 L185.28 453.61 L173.56 456.66 Z" fill="#f7f7f7"/>
<path d="M167.60 438.78 L183.05 435.76 L167.32 437.18 Z" fill="#f7f7f7"/>
<path d="M172.13 397.86 L191.46 404.36 L172.80 396.35 Z" fill="#f7f7f7"/>
<path d="M183.56 379.28 L198.51 388.25 L184.66 377.99 Z" fill="#f7f7f7"/>
<path d="M240.08 349.03 L243.33 366.96 L241.87 348.81 Z" fill="#f7f7f7"/>
<path d="M262.00 348.65 L259.41 365.43 L263.79 348.84 Z" fill="#f7f7f7"/>
<path d="M259.47 502.96 C255.14 453.51 263.74 451.78 283.36 498.15" fill="none" stroke="#f0202c" stroke-width="1.05"/>
<path d="M331.07 393.19 C280.91 414.00 272.68 447.07 308.20 485.07" fill="none" stroke="#f0202c" stroke-width="1.05"/>
<path d="M190.91 371.57 C230.46 406.21 225.33 412.47 176.68 388.96" fill="none" stroke="#f0202c" stroke-width="1.05"/>
<path d="M175.44 391.12 C224.88 413.25 222.25 420.09 168.13 410.12" fill="none" stroke="#f0202c" stroke-width="1.05"/>
<path d="M190.07 372.35 C230.15 406.49 280.91 414.00 331.07 393.19" fill="none" stroke="#f0202c" stroke-width="1.05"/>
<path d="M176.68 388.96 C225.33 412.47 280.96 414.09 331.20 393.44" fill="none" stroke="#f0202c" stroke-width="1.05"/>
<path d="M168.13 410.12 C222.25 420.09 281.00 414.17 331.32 393.68" fill="none" stroke="#f0202c" stroke-width="1.05"/>
<path d="M166.45 429.22 C221.65 426.97 281.05 414.26 331.45 393.93" fill="none" stroke="#f0202c" stroke-width="1.05"/>
<path d="M166.45 429.22 C221.65 426.97 283.58 422.54 338.48 416.93" fill="none" stroke="#f0202c" stroke-width="1.05"/>
<path d="M168.38 442.34 C222.34 431.69 281.09 414.35 331.57 394.18" fill="none" stroke="#f0202c" stroke-width="1.05"/>
<path d="M190.60 371.86 C230.34 406.32 272.68 447.07 308.20 485.07" fill="none" stroke="#f0202c" stroke-width="1.05"/>
<path d="M175.77 390.52 C225.01 413.03 272.47 447.23 307.62 485.50" fill="none" stroke="#f0202c" stroke-width="1.05"/>
<path d="M167.95 410.91 C222.19 420.38 272.89 446.92 308.77 484.63" fill="none" stroke="#f0202c" stroke-width="1.05"/>
<path d="M168.38 442.34 C222.34 431.69 272.26 447.38 307.03 485.93" fill="none" stroke="#f0202c" stroke-width="1.05"/>
<path d="M347.72 425.70 L347.71 427.23 L347.66 428.77 L347.59 430.30 L347.48 431.83 L347.34 433.36 L347.17 434.88 L346.97 436.40 L346.74 437.92 L346.48 439.44 L346.19 440.95 L345.87 442.45 L345.52 443.96 L345.14 445.45 L344.73 446.94 L344.29 448.42 L335.92 446.34 L336.32 445.00 L336.69 443.64 L337.03 442.29 L337.35 440.92 L337.64 439.55 L337.91 438.18 L338.14 436.81 L338.35 435.42 L338.53 434.04 L338.69 432.66 L338.81 431.27 L338.91 429.88 L338.98 428.49 L339.02 427.09 L339.03 425.70 Z" fill="#78f7cd"/>
<path d="M346.95 431.42 L346.92 431.86 L346.88 432.30 L339.33 431.77 L339.36 431.37 L339.39 430.97 Z" fill="#b8fbe6" opacity="0.8"/>
<path d="M346.00 438.98 L345.94 439.32 L345.88 439.65 L338.41 438.53 L338.46 438.22 L338.52 437.92 Z" fill="#b8fbe6" opacity="0.8"/>
<path d="M347.16 426.53 L347.16 426.94 L347.15 427.34 L339.58 427.21 L339.58 426.84 L339.59 426.46 Z" fill="#b8fbe6" opacity="0.8"/>
<path d="M346.68 434.32 L346.62 434.79 L346.56 435.26 L339.04 434.50 L339.09 434.06 L339.14 433.63 Z" fill="#b8fbe6" opacity="0.8"/>
<path d="M356.86 425.70 L356.84 427.38 L356.79 429.06 L356.71 430.74 L356.59 432.42 L356.44 434.09 L356.25 435.76 L356.04 437.43 L355.78 439.10 L355.50 440.76 L355.18 442.41 L354.83 444.07 L354.45 445.71 L354.03 447.35 L353.58 448.98 L353.10 450.60 L344.29 448.42 L344.73 446.94 L345.14 445.45 L345.52 443.96 L345.87 442.45 L346.19 440.95 L346.48 439.44 L346.74 437.92 L346.97 436.40 L347.17 434.88 L347.34 433.36 L347.48 431.83 L347.59 430.30 L347.66 428.77 L347.71 427.23 L347.72 425.70 Z" fill="#fff"/>
<path d="M351.88 425.70 L351.18 426.04 L352.68 426.39 L351.03 426.72 L350.85 427.06 L350.23 427.39 L351.03 427.74 L349.68 428.05 L350.32 428.40 L349.31 428.71 L350.92 429.10 L349.53 429.38 L349.02 429.70 L349.02 430.03 L349.43 430.39 L348.92 430.70 L348.42 431.00 L348.60 431.34 L349.04 431.70 L348.13 431.98 L348.56 432.34 L349.68 432.76 L348.90 433.03 L348.54 433.34 L348.13 433.64 L348.51 434.01 L348.46 434.34 L347.87 434.62 L348.58 435.02 L348.34 435.33 L348.22 435.65 L347.93 435.96 L348.30 436.33 L347.62 436.59 L348.26 437.00 L348.19 437.33 L348.16 437.66 L347.42 437.90 L347.37 438.23 L347.65 438.60 L347.83 438.96 L347.58 439.26 L347.14 439.53 L347.75 439.96 L347.53 440.27 L346.95 440.51 L347.00 440.86 L347.64 441.30 L347.00 441.53 L347.30 441.92 L346.65 442.14 L347.44 442.62 L346.62 442.81 L347.48 443.31 L346.81 443.53 L348.16 444.13 L347.12 444.27 L347.43 444.67 L347.38 445.01 L346.71 445.21 L346.82 445.58 L347.17 446.00 L347.04 446.32 L347.60 446.79 L347.20 447.04 L347.73 447.51 L347.83 447.89 L347.52 448.17 L347.10 448.41 L348.78 449.18 L347.49 449.21 L344.29 448.42 L345.09 445.64 L345.79 442.83 L346.38 440.01 L346.86 437.16 L347.24 434.31 L347.51 431.44 L347.67 428.57 L347.72 425.70 Z" fill="#ff800a" stroke="#ff7a00" stroke-width="0.35" stroke-linejoin="round"/>
<path d="M356.86 425.70 L356.84 427.38 L356.79 429.06 L356.71 430.74 L356.59 432.42 L356.44 434.09 L356.25 435.76 L356.04 437.43 L355.78 439.10 L355.50 440.76 L355.18 442.41 L354.83 444.07 L354.45 445.71 L354.03 447.35 L353.58 448.98 L353.10 450.60 L335.92 446.34 L336.32 445.00 L336.69 443.64 L337.03 442.29 L337.35 440.92 L337.64 439.55 L337.91 438.18 L338.14 436.81 L338.35 435.42 L338.53 434.04 L338.69 432.66 L338.81 431.27 L338.91 429.88 L338.98 428.49 L339.02 427.09 L339.03 425.70 Z" fill="none" stroke="#707070" stroke-width="0.6"/>
<path d="M347.72 425.70 L344.29 448.42" fill="none" stroke="#8aa" stroke-width="0.0"/>
<text transform="translate(385.50,441.87) scale(1.114,1) rotate(-82.3)" text-anchor="middle" dominant-baseline="central" font-family="'Liberation Sans', sans-serif" font-style="italic" font-size="5.4" fill="#111" stroke="#111" stroke-width="0.06">Chr01</text>
<path d="M341.68 455.64 L341.07 457.05 L340.44 458.45 L339.78 459.84 L339.09 461.22 L338.38 462.59 L337.64 463.95 L336.87 465.29 L336.07 466.63 L335.25 467.95 L334.40 469.25 L333.53 470.55 L332.63 471.83 L331.71 473.09 L324.48 468.76 L325.32 467.61 L326.14 466.45 L326.93 465.27 L327.70 464.08 L328.45 462.89 L329.17 461.67 L329.87 460.45 L330.54 459.22 L331.19 457.97 L331.82 456.72 L332.42 455.46 L332.99 454.18 L333.54 452.90 Z" fill="#78f7cd"/>
<path d="M339.97 458.17 L339.86 458.40 L339.75 458.63 L332.77 455.99 L332.87 455.78 L332.97 455.57 Z" fill="#b8fbe6" opacity="0.8"/>
<path d="M335.02 467.30 L334.77 467.69 L334.52 468.09 L327.96 464.69 L328.19 464.33 L328.42 463.96 Z" fill="#b8fbe6" opacity="0.8"/>
<path d="M336.92 464.11 L336.63 464.62 L336.34 465.12 L329.63 461.96 L329.90 461.50 L330.17 461.03 Z" fill="#b8fbe6" opacity="0.8"/>
<path d="M332.96 470.42 L332.82 470.63 L332.67 470.84 L326.26 467.22 L326.39 467.03 L326.53 466.83 Z" fill="#b8fbe6" opacity="0.8"/>
<path d="M350.23 458.52 L349.57 460.06 L348.88 461.60 L348.15 463.12 L347.40 464.64 L346.61 466.14 L345.80 467.63 L344.96 469.10 L344.09 470.56 L343.19 472.01 L342.26 473.44 L341.30 474.86 L340.32 476.26 L339.30 477.65 L331.71 473.09 L332.63 471.83 L333.53 470.55 L334.40 469.25 L335.25 467.95 L336.07 466.63 L336.87 465.29 L337.64 463.95 L338.38 462.59 L339.09 461.22 L339.78 459.84 L340.44 458.45 L341.07 457.05 L341.68 455.64 Z" fill="#fff"/>
<path d="M345.52 456.93 L346.13 457.50 L343.92 457.11 L344.48 457.67 L343.36 457.64 L343.35 457.99 L343.03 458.24 L342.75 458.50 L342.86 458.91 L342.55 459.16 L341.85 459.25 L341.54 459.50 L341.57 459.87 L340.89 459.97 L340.57 460.21 L341.16 460.80 L340.39 460.86 L339.96 461.05 L340.36 461.57 L340.30 461.92 L339.90 462.12 L339.76 462.42 L339.29 462.59 L339.07 462.86 L338.91 463.16 L338.83 463.49 L338.59 463.75 L338.34 464.01 L338.18 464.31 L338.01 464.60 L337.85 464.90 L338.25 465.45 L337.93 465.68 L337.85 466.02 L337.77 466.36 L337.22 466.47 L337.01 466.74 L336.64 466.94 L336.46 467.23 L336.97 467.85 L336.15 467.82 L335.97 468.11 L337.15 469.10 L335.86 468.82 L337.09 469.84 L336.07 469.70 L335.33 469.69 L335.83 470.34 L335.35 470.47 L335.17 470.77 L334.92 471.02 L336.07 472.05 L334.97 471.83 L334.92 472.20 L334.80 472.53 L334.94 473.01 L334.81 473.33 L335.17 473.95 L334.49 473.95 L334.48 474.35 L334.97 475.05 L331.71 473.09 L333.20 471.03 L334.62 468.93 L335.97 466.79 L337.25 464.62 L338.47 462.42 L339.61 460.19 L340.68 457.93 L341.68 455.64 Z" fill="#ff800a" stroke="#ff7a00" stroke-width="0.35" stroke-linejoin="round"/>
<path d="M350.23 458.52 L349.57 460.06 L348.88 461.60 L348.15 463.12 L347.40 464.64 L346.61 466.14 L345.80 467.63 L344.96 469.10 L344.09 470.56 L343.19 472.01 L342.26 473.44 L341.30 474.86 L340.32 476.26 L339.30 477.65 L324.48 468.76 L325.32 467.61 L326.14 466.45 L326.93 465.27 L327.70 464.08 L328.45 462.89 L329.17 461.67 L329.87 460.45 L330.54 459.22 L331.19 457.97 L331.82 456.72 L332.42 455.46 L332.99 454.18 L333.54 452.90 Z" fill="none" stroke="#707070" stroke-width="0.6"/>
<path d="M341.68 455.64 L331.71 473.09" fill="none" stroke="#8aa" stroke-width="0.0"/>
<text transform="translate(371.95,480.59) scale(1.114,1) rotate(-62.9)" text-anchor="middle" dominant-baseline="central" font-family="'Liberation Sans', sans-serif" font-style="italic" font-size="5.4" fill="#111" stroke="#111" stroke-width="0.06">Chr02</text>
<path d="M326.70 479.21 L325.61 480.40 L324.50 481.58 L323.36 482.74 L322.20 483.87 L321.01 484.99 L319.81 486.09 L318.58 487.17 L317.33 488.23 L316.06 489.27 L314.76 490.29 L313.45 491.29 L312.12 492.27 L306.69 486.18 L307.90 485.29 L309.09 484.39 L310.26 483.46 L311.42 482.52 L312.55 481.55 L313.67 480.57 L314.77 479.57 L315.84 478.55 L316.90 477.52 L317.93 476.47 L318.94 475.40 L319.94 474.32 Z" fill="#78f7cd"/>
<path d="M312.68 491.22 L312.16 491.59 L311.65 491.96 L306.92 486.65 L307.40 486.31 L307.87 485.96 Z" fill="#b8fbe6" opacity="0.8"/>
<path d="M325.58 479.66 L325.22 480.04 L324.86 480.42 L319.08 476.04 L319.41 475.68 L319.73 475.33 Z" fill="#b8fbe6" opacity="0.8"/>
<path d="M314.15 490.11 L313.80 490.37 L313.45 490.64 L308.58 485.43 L308.90 485.19 L309.22 484.94 Z" fill="#b8fbe6" opacity="0.8"/>
<path d="M333.82 484.35 L332.62 485.66 L331.40 486.95 L330.15 488.22 L328.88 489.47 L327.58 490.69 L326.26 491.90 L324.91 493.08 L323.54 494.25 L322.15 495.38 L320.73 496.50 L319.29 497.60 L317.83 498.67 L312.12 492.27 L313.45 491.29 L314.76 490.29 L316.06 489.27 L317.33 488.23 L318.58 487.17 L319.81 486.09 L321.01 484.99 L322.20 483.87 L323.36 482.74 L324.50 481.58 L325.61 480.40 L326.70 479.21 Z" fill="#fff"/>
<path d="M329.19 481.01 L329.00 481.31 L329.04 481.78 L329.02 482.21 L328.39 482.19 L327.25 481.78 L328.02 482.81 L326.39 482.01 L326.12 482.25 L325.72 482.38 L325.35 482.54 L324.89 482.62 L324.61 482.84 L324.49 483.20 L324.37 483.55 L324.33 483.97 L323.40 483.66 L323.60 484.29 L323.30 484.49 L322.81 484.54 L322.63 484.85 L322.52 485.22 L322.01 485.24 L321.89 485.60 L321.79 485.98 L321.26 485.98 L320.80 486.04 L320.91 486.61 L320.77 486.96 L320.75 487.42 L320.24 487.43 L320.07 487.75 L319.39 487.61 L318.95 487.68 L318.68 487.91 L318.88 488.58 L318.35 488.56 L318.05 488.77 L318.08 489.29 L317.76 489.48 L317.45 489.66 L317.35 490.07 L317.16 490.38 L316.32 490.04 L316.21 490.43 L316.09 490.82 L316.14 491.38 L315.55 491.28 L315.61 491.86 L315.16 491.91 L315.26 492.53 L314.95 492.73 L315.12 493.45 L314.83 493.67 L314.38 493.71 L314.39 494.26 L314.42 494.84 L312.12 492.27 L314.11 490.79 L316.06 489.27 L317.96 487.71 L319.81 486.09 L321.61 484.44 L323.36 482.74 L325.06 480.99 L326.70 479.21 Z" fill="#ff800a" stroke="#ff7a00" stroke-width="0.35" stroke-linejoin="round"/>
<path d="M333.82 484.35 L332.62 485.66 L331.40 486.95 L330.15 488.22 L328.88 489.47 L327.58 490.69 L326.26 491.90 L324.91 493.08 L323.54 494.25 L322.15 495.38 L320.73 496.50 L319.29 497.60 L317.83 498.67 L306.69 486.18 L307.90 485.29 L309.09 484.39 L310.26 483.46 L311.42 482.52 L312.55 481.55 L313.67 480.57 L314.77 479.57 L315.84 478.55 L316.90 477.52 L317.93 476.47 L318.94 475.40 L319.94 474.32 Z" fill="none" stroke="#707070" stroke-width="0.6"/>
<path d="M326.70 479.21 L312.12 492.27" fill="none" stroke="#8aa" stroke-width="0.0"/>
<text transform="translate(347.34,510.87) scale(1.114,1) rotate(-44.9)" text-anchor="middle" dominant-baseline="central" font-family="'Liberation Sans', sans-serif" font-style="italic" font-size="5.4" fill="#111" stroke="#111" stroke-width="0.06">Chr03</text>
<path d="M305.29 496.74 L303.88 497.57 L302.45 498.38 L301.00 499.16 L299.54 499.91 L298.07 500.65 L296.58 501.36 L295.08 502.05 L293.56 502.71 L292.03 503.35 L290.49 503.96 L288.94 504.55 L287.37 505.12 L285.79 505.66 L284.21 506.17 L281.33 498.82 L282.77 498.35 L284.20 497.86 L285.62 497.34 L287.03 496.81 L288.43 496.25 L289.82 495.67 L291.20 495.07 L292.57 494.44 L293.92 493.80 L295.26 493.13 L296.59 492.44 L297.90 491.73 L299.20 491.00 L300.48 490.25 Z" fill="#78f7cd"/>
<path d="M297.02 500.59 L296.40 500.88 L295.78 501.17 L292.33 495.12 L292.90 494.85 L293.47 494.58 Z" fill="#b8fbe6" opacity="0.8"/>
<path d="M286.22 504.98 L285.96 505.07 L285.69 505.16 L283.04 498.79 L283.29 498.71 L283.53 498.62 Z" fill="#b8fbe6" opacity="0.8"/>
<path d="M302.63 497.69 L302.11 497.98 L301.58 498.26 L297.66 492.45 L298.15 492.18 L298.63 491.91 Z" fill="#b8fbe6" opacity="0.8"/>
<path d="M310.35 503.57 L308.80 504.48 L307.23 505.36 L305.65 506.22 L304.05 507.05 L302.43 507.85 L300.80 508.63 L299.15 509.39 L297.49 510.11 L295.81 510.81 L294.12 511.49 L292.42 512.13 L290.70 512.75 L288.98 513.35 L287.24 513.91 L284.21 506.17 L285.79 505.66 L287.37 505.12 L288.94 504.55 L290.49 503.96 L292.03 503.35 L293.56 502.71 L295.08 502.05 L296.58 501.36 L298.07 500.65 L299.54 499.91 L301.00 499.16 L302.45 498.38 L303.88 497.57 L305.29 496.74 Z" fill="#fff"/>
<path d="M307.18 499.30 L306.93 499.57 L306.29 499.32 L305.90 499.41 L305.76 499.85 L304.92 499.30 L304.81 499.77 L304.42 499.87 L303.82 499.64 L303.40 499.67 L303.02 499.76 L302.97 500.33 L302.08 499.66 L302.37 500.76 L301.81 500.57 L301.48 500.73 L301.08 500.78 L300.29 500.23 L300.25 500.84 L300.08 501.25 L299.39 500.84 L299.29 501.37 L298.67 501.04 L298.42 501.32 L298.16 501.60 L297.69 501.51 L297.42 501.77 L297.03 501.82 L296.79 502.13 L296.49 502.34 L296.09 502.37 L295.71 502.43 L295.54 502.88 L295.04 502.73 L294.88 503.19 L294.53 503.31 L294.13 503.34 L293.82 503.53 L293.39 503.49 L293.10 503.72 L292.69 503.73 L292.49 504.14 L292.08 504.13 L292.30 505.39 L291.43 504.47 L291.03 504.48 L290.94 505.14 L290.54 505.16 L290.27 505.44 L289.99 505.72 L289.39 505.29 L289.20 505.75 L288.91 506.00 L288.75 506.56 L288.17 506.17 L288.12 506.97 L287.90 507.40 L287.26 506.84 L287.29 507.87 L286.82 507.73 L286.65 508.29 L286.14 508.02 L285.84 508.28 L285.77 509.14 L285.57 509.64 L284.21 506.17 L286.98 505.26 L289.71 504.26 L292.41 503.19 L295.08 502.05 L297.70 500.83 L300.28 499.54 L302.81 498.18 L305.29 496.74 Z" fill="#ff800a" stroke="#ff7a00" stroke-width="0.35" stroke-linejoin="round"/>
<path d="M310.35 503.57 L308.80 504.48 L307.23 505.36 L305.65 506.22 L304.05 507.05 L302.43 507.85 L300.80 508.63 L299.15 509.39 L297.49 510.11 L295.81 510.81 L294.12 511.49 L292.42 512.13 L290.70 512.75 L288.98 513.35 L287.24 513.91 L281.33 498.82 L282.77 498.35 L284.20 497.86 L285.62 497.34 L287.03 496.81 L288.43 496.25 L289.82 495.67 L291.20 495.07 L292.57 494.44 L293.92 493.80 L295.26 493.13 L296.59 492.44 L297.90 491.73 L299.20 491.00 L300.48 490.25 Z" fill="none" stroke="#707070" stroke-width="0.6"/>
<path d="M305.29 496.74 L284.21 506.17" fill="none" stroke="#8aa" stroke-width="0.0"/>
<text transform="translate(312.47,533.37) scale(1.114,1) rotate(-26.5)" text-anchor="middle" dominant-baseline="central" font-family="'Liberation Sans', sans-serif" font-style="italic" font-size="5.4" fill="#111" stroke="#111" stroke-width="0.06">Chr04</text>
<path d="M276.11 508.37 L274.43 508.74 L272.74 509.08 L271.05 509.39 L269.35 509.68 L267.64 509.94 L265.93 510.17 L264.22 510.37 L262.50 510.55 L260.77 510.69 L259.05 510.81 L257.32 510.90 L256.90 503.11 L258.47 503.03 L260.03 502.92 L261.60 502.79 L263.16 502.63 L264.72 502.45 L266.28 502.24 L267.83 502.00 L269.37 501.74 L270.91 501.46 L272.45 501.15 L273.97 500.81 Z" fill="#78f7cd"/>
<path d="M275.15 508.07 L274.85 508.14 L274.55 508.20 L272.80 501.58 L273.08 501.52 L273.35 501.46 Z" fill="#b8fbe6" opacity="0.8"/>
<path d="M265.52 509.72 L265.25 509.75 L264.99 509.78 L264.01 503.04 L264.25 503.01 L264.49 502.98 Z" fill="#b8fbe6" opacity="0.8"/>
<path d="M278.37 516.32 L276.52 516.72 L274.67 517.10 L272.81 517.44 L270.95 517.75 L269.08 518.04 L267.20 518.29 L265.32 518.51 L263.44 518.70 L261.55 518.86 L259.66 518.99 L257.76 519.09 L257.32 510.90 L259.05 510.81 L260.77 510.69 L262.50 510.55 L264.22 510.37 L265.93 510.17 L267.64 509.94 L269.35 509.68 L271.05 509.39 L272.74 509.08 L274.43 508.74 L276.11 508.37 Z" fill="#fff"/>
<path d="M277.08 511.77 L276.61 511.50 L276.12 511.15 L275.61 510.68 L275.40 511.34 L274.81 510.59 L274.34 510.24 L274.17 511.09 L273.61 510.38 L273.20 510.26 L273.10 511.44 L272.69 511.31 L272.18 510.77 L271.63 510.00 L271.32 510.32 L270.96 510.39 L270.63 510.62 L270.37 511.18 L270.12 511.81 L269.43 510.27 L269.07 510.33 L268.71 510.39 L268.34 510.44 L268.03 510.78 L267.64 510.72 L267.25 510.60 L267.08 511.84 L266.57 510.97 L266.22 511.13 L265.81 510.93 L265.43 510.85 L265.06 510.88 L264.69 510.92 L264.36 511.22 L263.97 511.08 L263.67 511.65 L263.26 511.35 L262.86 511.11 L262.54 511.50 L262.19 511.73 L261.81 511.67 L261.45 511.72 L261.07 511.64 L260.72 511.89 L260.38 512.29 L260.04 512.74 L259.68 512.83 L259.31 513.03 L258.94 513.01 L258.66 514.42 L258.20 513.20 L257.85 513.76 L257.59 515.88 L257.32 510.90 L259.69 510.77 L262.06 510.58 L264.43 510.35 L266.79 510.06 L269.14 509.71 L271.47 509.32 L273.80 508.87 L276.11 508.37 Z" fill="#ff800a" stroke="#ff7a00" stroke-width="0.35" stroke-linejoin="round"/>
<path d="M278.37 516.32 L276.52 516.72 L274.67 517.10 L272.81 517.44 L270.95 517.75 L269.08 518.04 L267.20 518.29 L265.32 518.51 L263.44 518.70 L261.55 518.86 L259.66 518.99 L257.76 519.09 L256.90 503.11 L258.47 503.03 L260.03 502.92 L261.60 502.79 L263.16 502.63 L264.72 502.45 L266.28 502.24 L267.83 502.00 L269.37 501.74 L270.91 501.46 L272.45 501.15 L273.97 500.81 Z" fill="none" stroke="#707070" stroke-width="0.6"/>
<path d="M276.11 508.37 L257.32 510.90" fill="none" stroke="#8aa" stroke-width="0.0"/>
<text transform="translate(272.57,544.67) scale(1.114,1) rotate(-8.5)" text-anchor="middle" dominant-baseline="central" font-family="'Liberation Sans', sans-serif" font-style="italic" font-size="5.4" fill="#111" stroke="#111" stroke-width="0.06">Chr05</text>
<path d="M248.86 510.93 L247.08 510.85 L245.30 510.74 L243.53 510.60 L241.75 510.43 L239.99 510.23 L238.22 510.00 L236.46 509.75 L234.71 509.46 L232.96 509.14 L231.22 508.79 L229.49 508.42 L227.76 508.01 L226.05 507.58 L228.48 500.09 L230.04 500.48 L231.61 500.85 L233.18 501.19 L234.76 501.51 L236.35 501.80 L237.95 502.06 L239.54 502.30 L241.15 502.50 L242.76 502.68 L244.37 502.84 L245.98 502.96 L247.60 503.06 L249.21 503.14 Z" fill="#78f7cd"/>
<path d="M241.32 509.88 L240.94 509.84 L240.56 509.80 L241.53 503.05 L241.88 503.09 L242.23 503.13 Z" fill="#b8fbe6" opacity="0.8"/>
<path d="M247.98 510.39 L247.36 510.36 L246.74 510.33 L247.22 503.54 L247.79 503.58 L248.36 503.60 Z" fill="#b8fbe6" opacity="0.8"/>
<path d="M228.72 507.72 L228.18 507.59 L227.63 507.46 L229.64 500.90 L230.14 501.03 L230.64 501.14 Z" fill="#b8fbe6" opacity="0.8"/>
<path d="M228.16 507.59 L227.91 507.53 L227.66 507.47 L229.67 500.91 L229.90 500.97 L230.13 501.02 Z" fill="#b8fbe6" opacity="0.8"/>
<path d="M248.49 519.12 L246.54 519.04 L244.59 518.92 L242.65 518.76 L240.70 518.58 L238.76 518.36 L236.83 518.11 L234.90 517.82 L232.98 517.51 L231.06 517.16 L229.15 516.78 L227.25 516.37 L225.36 515.92 L223.48 515.45 L226.05 507.58 L227.76 508.01 L229.49 508.42 L231.22 508.79 L232.96 509.14 L234.71 509.46 L236.46 509.75 L238.22 510.00 L239.99 510.23 L241.75 510.43 L243.53 510.60 L245.30 510.74 L247.08 510.85 L248.86 510.93 Z" fill="#fff"/>
<path d="M248.73 513.97 L248.32 514.42 L247.98 513.64 L247.61 513.46 L247.22 513.73 L246.86 513.41 L246.49 513.25 L246.14 512.87 L245.79 512.43 L245.39 512.72 L245.08 512.02 L244.65 512.55 L244.32 512.10 L243.91 512.39 L243.55 512.29 L243.28 511.33 L242.87 511.63 L242.51 511.49 L242.15 511.38 L241.76 511.55 L241.37 511.64 L241.08 510.96 L240.71 510.97 L240.33 510.99 L239.98 510.83 L239.61 510.79 L239.16 511.31 L238.88 510.72 L238.40 511.30 L238.15 510.60 L237.72 510.87 L237.42 510.49 L236.96 510.92 L236.42 511.80 L236.32 510.33 L235.83 510.90 L235.47 510.81 L235.11 510.69 L234.86 510.09 L234.36 510.66 L234.06 510.28 L233.77 509.90 L233.41 509.83 L233.03 509.83 L232.57 510.17 L232.32 509.63 L231.81 510.14 L231.52 509.78 L231.03 510.22 L230.83 509.52 L230.36 509.83 L229.91 510.07 L229.65 509.64 L229.19 509.89 L228.82 509.83 L228.42 509.87 L228.01 509.96 L227.46 510.49 L227.19 510.10 L226.67 510.51 L226.46 509.94 L225.91 510.43 L225.48 510.53 L225.03 510.70 L226.05 507.58 L228.84 508.27 L231.65 508.88 L234.49 509.42 L237.34 509.88 L240.21 510.26 L243.08 510.56 L245.97 510.79 L248.86 510.93 Z" fill="#ff800a" stroke="#ff7a00" stroke-width="0.35" stroke-linejoin="round"/>
<path d="M248.49 519.12 L246.54 519.04 L244.59 518.92 L242.65 518.76 L240.70 518.58 L238.76 518.36 L236.83 518.11 L234.90 517.82 L232.98 517.51 L231.06 517.16 L229.15 516.78 L227.25 516.37 L225.36 515.92 L223.48 515.45 L228.48 500.09 L230.04 500.48 L231.61 500.85 L233.18 501.19 L234.76 501.51 L236.35 501.80 L237.95 502.06 L239.54 502.30 L241.15 502.50 L242.76 502.68 L244.37 502.84 L245.98 502.96 L247.60 503.06 L249.21 503.14 Z" fill="none" stroke="#707070" stroke-width="0.6"/>
<path d="M248.86 510.93 L226.05 507.58" fill="none" stroke="#8aa" stroke-width="0.0"/>
<text transform="translate(231.04,544.42) scale(1.114,1) rotate(9.3)" text-anchor="middle" dominant-baseline="central" font-family="'Liberation Sans', sans-serif" font-style="italic" font-size="5.4" fill="#111" stroke="#111" stroke-width="0.06">Chr06</text>
<path d="M218.04 505.12 L216.49 504.56 L214.94 503.98 L213.41 503.37 L211.89 502.73 L210.38 502.07 L208.89 501.39 L207.41 500.69 L205.94 499.96 L204.49 499.21 L203.05 498.43 L201.63 497.63 L200.22 496.81 L205.02 490.31 L206.30 491.06 L207.59 491.78 L208.90 492.48 L210.22 493.17 L211.55 493.83 L212.89 494.47 L214.25 495.09 L215.62 495.69 L217.00 496.27 L218.40 496.82 L219.80 497.35 L221.21 497.86 Z" fill="#78f7cd"/>
<path d="M216.60 504.06 L216.31 503.95 L216.01 503.84 L218.96 497.58 L219.23 497.68 L219.50 497.78 Z" fill="#b8fbe6" opacity="0.8"/>
<path d="M204.23 498.49 L203.85 498.28 L203.47 498.08 L207.42 492.27 L207.77 492.46 L208.12 492.65 Z" fill="#b8fbe6" opacity="0.8"/>
<path d="M214.71 512.76 L213.01 512.14 L211.31 511.50 L209.63 510.83 L207.97 510.14 L206.31 509.42 L204.68 508.67 L203.05 507.90 L201.45 507.10 L199.85 506.27 L198.28 505.42 L196.72 504.55 L195.18 503.65 L200.22 496.81 L201.63 497.63 L203.05 498.43 L204.49 499.21 L205.94 499.96 L207.41 500.69 L208.89 501.39 L210.38 502.07 L211.89 502.73 L213.41 503.37 L214.94 503.98 L216.49 504.56 L218.04 505.12 Z" fill="#fff"/>
<path d="M216.67 508.26 L216.36 508.04 L216.27 507.33 L215.69 507.70 L215.59 507.04 L215.30 506.78 L214.41 507.81 L214.96 505.77 L214.54 505.79 L214.22 505.61 L213.86 505.52 L213.58 505.26 L213.39 504.83 L213.15 504.49 L213.03 503.91 L212.67 503.82 L212.37 503.63 L211.75 504.03 L211.40 503.91 L211.18 503.56 L211.02 503.09 L210.63 503.05 L210.16 503.17 L210.05 502.61 L209.69 502.52 L209.30 502.47 L209.07 502.15 L208.67 502.13 L208.26 502.11 L207.83 502.14 L207.24 502.42 L207.41 501.43 L207.01 501.40 L206.79 501.07 L206.14 501.45 L205.91 501.14 L205.55 501.02 L205.27 500.80 L204.63 501.13 L204.56 500.57 L204.51 499.99 L204.07 500.00 L203.44 500.31 L203.11 500.15 L202.68 500.15 L202.62 499.59 L202.03 499.81 L201.73 499.62 L201.04 499.98 L200.84 499.64 L200.62 499.32 L200.21 499.27 L199.51 499.61 L199.24 499.37 L198.50 499.76 L197.20 500.91 L200.22 496.81 L202.34 498.03 L204.49 499.21 L206.67 500.33 L208.89 501.39 L211.13 502.41 L213.41 503.37 L215.71 504.27 L218.04 505.12 Z" fill="#ff800a" stroke="#ff7a00" stroke-width="0.35" stroke-linejoin="round"/>
<path d="M214.71 512.76 L213.01 512.14 L211.31 511.50 L209.63 510.83 L207.97 510.14 L206.31 509.42 L204.68 508.67 L203.05 507.90 L201.45 507.10 L199.85 506.27 L198.28 505.42 L196.72 504.55 L195.18 503.65 L205.02 490.31 L206.30 491.06 L207.59 491.78 L208.90 492.48 L210.22 493.17 L211.55 493.83 L212.89 494.47 L214.25 495.09 L215.62 495.69 L217.00 496.27 L218.40 496.82 L219.80 497.35 L221.21 497.86 Z" fill="none" stroke="#707070" stroke-width="0.6"/>
<path d="M218.04 505.12 L200.22 496.81" fill="none" stroke="#8aa" stroke-width="0.0"/>
<text transform="translate(190.91,532.45) scale(1.114,1) rotate(27.5)" text-anchor="middle" dominant-baseline="central" font-family="'Liberation Sans', sans-serif" font-style="italic" font-size="5.4" fill="#111" stroke="#111" stroke-width="0.06">Chr07</text>
<path d="M193.39 492.34 L192.10 491.40 L190.83 490.44 L189.58 489.47 L188.35 488.47 L187.14 487.45 L185.95 486.41 L184.78 485.36 L183.63 484.28 L182.50 483.19 L181.40 482.08 L180.31 480.96 L179.25 479.81 L178.20 478.66 L185.02 473.81 L185.96 474.87 L186.93 475.90 L187.92 476.93 L188.92 477.93 L189.95 478.93 L190.99 479.90 L192.06 480.86 L193.14 481.80 L194.24 482.73 L195.36 483.63 L196.49 484.52 L197.64 485.40 L198.81 486.25 Z" fill="#78f7cd"/>
<path d="M184.99 484.84 L184.62 484.49 L184.25 484.14 L189.74 479.46 L190.08 479.78 L190.42 480.09 Z" fill="#b8fbe6" opacity="0.8"/>
<path d="M180.64 480.53 L180.44 480.33 L180.25 480.12 L186.06 475.76 L186.24 475.95 L186.42 476.13 Z" fill="#b8fbe6" opacity="0.8"/>
<path d="M179.24 479.02 L178.89 478.63 L178.55 478.24 L184.49 474.02 L184.81 474.38 L185.13 474.74 Z" fill="#b8fbe6" opacity="0.8"/>
<path d="M187.69 498.75 L186.28 497.72 L184.89 496.67 L183.52 495.60 L182.17 494.50 L180.84 493.38 L179.53 492.25 L178.25 491.09 L176.99 489.92 L175.75 488.72 L174.54 487.50 L173.35 486.27 L172.18 485.02 L171.04 483.75 L178.20 478.66 L179.25 479.81 L180.31 480.96 L181.40 482.08 L182.50 483.19 L183.63 484.28 L184.78 485.36 L185.95 486.41 L187.14 487.45 L188.35 488.47 L189.58 489.47 L190.83 490.44 L192.10 491.40 L193.39 492.34 Z" fill="#fff"/>
<path d="M191.17 494.84 L191.13 494.34 L190.79 494.18 L190.52 493.94 L190.77 493.13 L190.70 492.68 L190.39 492.49 L189.71 492.69 L189.75 492.13 L189.50 491.88 L189.40 491.47 L189.27 491.10 L189.33 490.53 L188.30 491.07 L188.73 490.13 L188.50 489.86 L188.11 489.76 L188.15 489.23 L187.71 489.17 L187.13 489.24 L187.41 488.49 L186.85 488.54 L186.49 488.40 L185.72 488.64 L186.13 487.77 L185.81 487.59 L185.33 487.56 L185.55 486.89 L185.28 486.66 L184.95 486.49 L184.76 486.19 L184.50 485.95 L183.76 486.15 L183.99 485.48 L183.57 485.38 L183.07 485.35 L183.20 484.79 L182.97 484.53 L182.30 484.64 L182.47 484.04 L181.78 484.16 L181.51 483.94 L181.63 483.39 L180.60 483.77 L180.63 483.30 L180.25 483.16 L180.41 482.59 L179.96 482.50 L179.57 482.37 L179.14 482.26 L179.14 481.81 L178.96 481.52 L178.42 481.49 L177.46 481.77 L177.59 481.24 L177.19 481.10 L176.30 481.31 L176.05 481.05 L175.38 481.10 L175.04 480.90 L178.20 478.66 L179.91 480.53 L181.67 482.36 L183.49 484.15 L185.36 485.89 L187.29 487.58 L189.27 489.22 L191.31 490.81 L193.39 492.34 Z" fill="#ff800a" stroke="#ff7a00" stroke-width="0.35" stroke-linejoin="round"/>
<path d="M187.69 498.75 L186.28 497.72 L184.89 496.67 L183.52 495.60 L182.17 494.50 L180.84 493.38 L179.53 492.25 L178.25 491.09 L176.99 489.92 L175.75 488.72 L174.54 487.50 L173.35 486.27 L172.18 485.02 L171.04 483.75 L185.02 473.81 L185.96 474.87 L186.93 475.90 L187.92 476.93 L188.92 477.93 L189.95 478.93 L190.99 479.90 L192.06 480.86 L193.14 481.80 L194.24 482.73 L195.36 483.63 L196.49 484.52 L197.64 485.40 L198.81 486.25 Z" fill="none" stroke="#707070" stroke-width="0.6"/>
<path d="M193.39 492.34 L178.20 478.66" fill="none" stroke="#8aa" stroke-width="0.0"/>
<text transform="translate(157.73,510.58) scale(1.114,1) rotate(45.1)" text-anchor="middle" dominant-baseline="central" font-family="'Liberation Sans', sans-serif" font-style="italic" font-size="5.4" fill="#111" stroke="#111" stroke-width="0.06">Chr08</text>
<path d="M173.26 472.50 L172.31 471.19 L171.40 469.86 L170.51 468.51 L169.65 467.16 L168.82 465.78 L168.02 464.40 L167.24 463.00 L166.50 461.59 L165.78 460.16 L165.09 458.73 L164.43 457.28 L163.80 455.83 L163.20 454.36 L171.38 451.74 L171.93 453.07 L172.50 454.40 L173.10 455.71 L173.73 457.01 L174.38 458.31 L175.06 459.59 L175.76 460.86 L176.49 462.12 L177.25 463.36 L178.03 464.60 L178.83 465.82 L179.66 467.03 L180.52 468.22 Z" fill="#78f7cd"/>
<path d="M168.72 464.53 L168.44 464.04 L168.17 463.56 L174.95 460.52 L175.20 460.97 L175.45 461.41 Z" fill="#b8fbe6" opacity="0.8"/>
<path d="M167.48 462.29 L167.31 461.97 L167.14 461.65 L174.00 458.76 L174.16 459.06 L174.32 459.36 Z" fill="#b8fbe6" opacity="0.8"/>
<path d="M165.62 477.00 L164.59 475.56 L163.58 474.10 L162.61 472.63 L161.67 471.14 L160.76 469.64 L159.88 468.12 L159.03 466.58 L158.21 465.04 L157.42 463.48 L156.67 461.90 L155.94 460.32 L155.25 458.72 L154.60 457.12 L163.20 454.36 L163.80 455.83 L164.43 457.28 L165.09 458.73 L165.78 460.16 L166.50 461.59 L167.24 463.00 L168.02 464.40 L168.82 465.78 L169.65 467.16 L170.51 468.51 L171.40 469.86 L172.31 471.19 L173.26 472.50 Z" fill="#fff"/>
<path d="M170.44 474.16 L170.58 473.68 L169.88 473.68 L169.80 473.32 L169.90 472.86 L169.96 472.43 L169.91 472.06 L170.43 471.37 L170.10 471.16 L169.61 471.04 L170.22 470.32 L169.35 470.40 L170.00 469.67 L168.60 470.02 L169.13 469.35 L169.00 469.04 L169.37 468.46 L169.42 468.06 L169.18 467.80 L168.04 467.99 L168.82 467.22 L168.59 466.96 L167.88 466.93 L167.83 466.58 L168.21 466.02 L167.90 465.79 L167.82 465.46 L167.47 465.25 L167.00 465.09 L166.87 464.78 L167.20 464.26 L166.60 464.16 L166.87 463.67 L166.53 463.45 L166.55 463.08 L166.34 462.80 L166.23 462.48 L166.07 462.18 L165.51 462.06 L165.76 461.58 L165.61 461.28 L164.99 461.17 L164.88 460.85 L164.92 460.48 L164.25 460.38 L163.26 460.40 L164.47 459.57 L164.03 459.38 L163.44 459.24 L163.63 458.81 L163.11 458.64 L162.98 458.33 L163.05 457.94 L162.27 457.86 L162.11 457.56 L162.13 457.19 L161.70 456.98 L161.51 456.69 L161.41 456.36 L161.02 456.13 L160.13 456.07 L160.46 455.60 L159.92 455.41 L163.20 454.36 L164.19 456.74 L165.26 459.09 L166.40 461.41 L167.63 463.70 L168.92 465.96 L170.29 468.18 L171.74 470.36 L173.26 472.50 Z" fill="#ff800a" stroke="#ff7a00" stroke-width="0.35" stroke-linejoin="round"/>
<path d="M165.62 477.00 L164.59 475.56 L163.58 474.10 L162.61 472.63 L161.67 471.14 L160.76 469.64 L159.88 468.12 L159.03 466.58 L158.21 465.04 L157.42 463.48 L156.67 461.90 L155.94 460.32 L155.25 458.72 L154.60 457.12 L171.38 451.74 L171.93 453.07 L172.50 454.40 L173.10 455.71 L173.73 457.01 L174.38 458.31 L175.06 459.59 L175.76 460.86 L176.49 462.12 L177.25 463.36 L178.03 464.60 L178.83 465.82 L179.66 467.03 L180.52 468.22 Z" fill="none" stroke="#707070" stroke-width="0.6"/>
<path d="M173.26 472.50 L163.20 454.36" fill="none" stroke="#8aa" stroke-width="0.0"/>
<text transform="translate(132.72,479.29) scale(1.114,1) rotate(63.5)" text-anchor="middle" dominant-baseline="central" font-family="'Liberation Sans', sans-serif" font-style="italic" font-size="5.4" fill="#111" stroke="#111" stroke-width="0.06">Chr09</text>
<path d="M160.72 447.11 L160.31 445.66 L159.94 444.21 L159.59 442.75 L159.28 441.29 L158.99 439.82 L158.73 438.35 L158.49 436.87 L158.29 435.39 L158.12 433.91 L157.97 432.42 L157.86 430.94 L157.77 429.45 L157.71 427.96 L157.68 426.47 L166.37 426.40 L166.40 427.75 L166.45 429.11 L166.53 430.46 L166.63 431.81 L166.77 433.16 L166.92 434.50 L167.11 435.85 L167.32 437.19 L167.56 438.53 L167.82 439.86 L168.11 441.19 L168.42 442.51 L168.76 443.83 L169.13 445.15 Z" fill="#78f7cd"/>
<path d="M159.96 441.82 L159.82 441.19 L159.69 440.55 L167.15 439.36 L167.27 439.94 L167.39 440.53 Z" fill="#b8fbe6" opacity="0.8"/>
<path d="M159.86 441.39 L159.73 440.76 L159.61 440.12 L167.07 438.97 L167.19 439.55 L167.31 440.14 Z" fill="#b8fbe6" opacity="0.8"/>
<path d="M151.87 449.16 L151.43 447.58 L151.02 445.99 L150.64 444.39 L150.29 442.78 L149.98 441.18 L149.69 439.56 L149.44 437.94 L149.22 436.32 L149.02 434.70 L148.87 433.07 L148.74 431.44 L148.64 429.81 L148.58 428.18 L148.55 426.54 L157.68 426.47 L157.71 427.96 L157.77 429.45 L157.86 430.94 L157.97 432.42 L158.12 433.91 L158.29 435.39 L158.49 436.87 L158.73 438.35 L158.99 439.82 L159.28 441.29 L159.59 442.75 L159.94 444.21 L160.31 445.66 L160.72 447.11 Z" fill="#fff"/>
<path d="M156.65 448.05 L157.15 447.58 L157.82 447.07 L157.79 446.73 L157.93 446.35 L157.37 446.12 L157.49 445.74 L158.48 445.19 L158.10 444.92 L157.59 444.68 L158.64 444.12 L157.05 444.09 L157.83 443.59 L158.13 443.19 L157.87 442.89 L158.08 442.51 L158.08 442.17 L158.51 441.75 L158.60 441.40 L158.43 441.09 L157.74 440.86 L158.23 440.44 L158.36 440.08 L156.57 440.01 L157.98 439.46 L157.56 439.18 L156.62 438.97 L157.42 438.52 L158.01 438.10 L157.53 437.83 L157.91 437.44 L157.29 437.18 L157.81 436.78 L157.76 436.45 L157.65 436.13 L157.21 435.84 L156.90 435.53 L157.36 435.15 L157.08 434.84 L157.12 434.50 L156.61 434.21 L156.71 433.86 L156.91 433.51 L157.37 433.14 L157.07 432.82 L156.38 432.54 L156.31 432.20 L157.07 431.82 L157.08 431.48 L156.85 431.16 L156.17 430.86 L156.67 430.50 L155.81 430.20 L156.12 429.85 L155.60 429.53 L155.42 429.20 L155.25 428.87 L155.15 428.53 L154.66 428.20 L154.99 427.85 L154.43 427.52 L154.35 427.18 L154.29 426.84 L154.45 426.49 L157.68 426.47 L157.75 429.08 L157.91 431.68 L158.16 434.28 L158.49 436.87 L158.92 439.45 L159.43 442.02 L160.03 444.57 L160.72 447.11 Z" fill="#ff800a" stroke="#ff7a00" stroke-width="0.35" stroke-linejoin="round"/>
<path d="M151.87 449.16 L151.43 447.58 L151.02 445.99 L150.64 444.39 L150.29 442.78 L149.98 441.18 L149.69 439.56 L149.44 437.94 L149.22 436.32 L149.02 434.70 L148.87 433.07 L148.74 431.44 L148.64 429.81 L148.58 428.18 L148.55 426.54 L166.37 426.40 L166.40 427.75 L166.45 429.11 L166.53 430.46 L166.63 431.81 L166.77 433.16 L166.92 434.50 L167.11 435.85 L167.32 437.19 L167.56 438.53 L167.82 439.86 L168.11 441.19 L168.42 442.51 L168.76 443.83 L169.13 445.15 Z" fill="none" stroke="#707070" stroke-width="0.6"/>
<path d="M160.72 447.11 L157.68 426.47" fill="none" stroke="#8aa" stroke-width="0.0"/>
<text transform="translate(119.84,441.45) scale(1.114,1) rotate(82.5)" text-anchor="middle" dominant-baseline="central" font-family="'Liberation Sans', sans-serif" font-style="italic" font-size="5.4" fill="#111" stroke="#111" stroke-width="0.06">Chr10</text>
<path d="M157.98 418.88 L158.13 417.33 L158.32 415.77 L158.54 414.22 L158.79 412.67 L159.07 411.13 L159.39 409.59 L159.73 408.06 L160.11 406.53 L160.51 405.01 L168.94 406.91 L168.57 408.29 L168.23 409.67 L167.92 411.07 L167.63 412.46 L167.38 413.86 L167.15 415.27 L166.95 416.68 L166.78 418.09 L166.64 419.51 Z" fill="#78f7cd"/>
<path d="M160.63 406.72 L160.78 406.14 L160.94 405.55 L168.30 407.17 L168.15 407.70 L168.01 408.24 Z" fill="#b8fbe6" opacity="0.8"/>
<path d="M158.68 417.47 L158.74 416.89 L158.81 416.30 L166.34 417.06 L166.28 417.59 L166.22 418.13 Z" fill="#b8fbe6" opacity="0.8"/>
<path d="M148.87 418.23 L149.04 416.52 L149.25 414.82 L149.49 413.12 L149.76 411.42 L150.07 409.73 L150.41 408.04 L150.79 406.36 L151.20 404.69 L151.65 403.02 L160.51 405.01 L160.11 406.53 L159.73 408.06 L159.39 409.59 L159.07 411.13 L158.79 412.67 L158.54 414.22 L158.32 415.77 L158.13 417.33 L157.98 418.88 Z" fill="#fff"/>
<path d="M153.89 418.59 L155.11 418.33 L154.30 417.92 L154.97 417.62 L156.03 417.37 L156.43 417.06 L156.01 416.68 L156.90 416.42 L156.43 416.03 L156.51 415.69 L156.79 415.38 L156.81 415.04 L157.00 414.72 L157.27 414.41 L157.32 414.07 L157.26 413.72 L157.99 413.47 L158.04 413.14 L158.10 412.80 L158.15 412.47 L158.01 412.11 L156.21 411.50 L158.16 411.45 L158.02 411.08 L158.38 410.79 L157.82 410.36 L158.21 410.08 L158.66 409.81 L158.24 409.39 L158.63 409.12 L158.45 408.74 L156.69 408.07 L158.30 408.02 L158.01 407.62 L158.36 407.34 L157.97 406.91 L158.22 406.61 L157.96 406.21 L158.08 405.88 L157.78 405.46 L157.71 405.09 L156.73 404.52 L156.65 404.15 L160.51 405.01 L160.06 406.72 L159.64 408.44 L159.26 410.17 L158.93 411.90 L158.63 413.64 L158.37 415.38 L158.16 417.13 L157.98 418.88 Z" fill="#ff800a" stroke="#ff7a00" stroke-width="0.35" stroke-linejoin="round"/>
<path d="M148.87 418.23 L149.04 416.52 L149.25 414.82 L149.49 413.12 L149.76 411.42 L150.07 409.73 L150.41 408.04 L150.79 406.36 L151.20 404.69 L151.65 403.02 L168.94 406.91 L168.57 408.29 L168.23 409.67 L167.92 411.07 L167.63 412.46 L167.38 413.86 L167.15 415.27 L166.95 416.68 L166.78 418.09 L166.64 419.51 Z" fill="none" stroke="#707070" stroke-width="0.6"/>
<path d="M157.98 418.88 L160.51 405.01" fill="none" stroke="#8aa" stroke-width="0.0"/>
<text transform="translate(120.45,406.24) scale(1.114,1) rotate(279.3)" text-anchor="middle" dominant-baseline="central" font-family="'Liberation Sans', sans-serif" font-style="italic" font-size="5.4" fill="#111" stroke="#111" stroke-width="0.06">Chr11</text>
<path d="M162.93 397.74 L163.53 396.21 L164.18 394.69 L164.85 393.19 L165.55 391.70 L166.29 390.21 L167.06 388.74 L167.85 387.29 L168.68 385.85 L169.54 384.42 L170.43 383.01 L177.96 386.91 L177.15 388.20 L176.37 389.49 L175.61 390.80 L174.89 392.12 L174.19 393.46 L173.52 394.80 L172.88 396.16 L172.27 397.53 L171.69 398.91 L171.14 400.30 Z" fill="#78f7cd"/>
<path d="M168.30 387.61 L168.44 387.36 L168.58 387.11 L175.33 390.20 L175.20 390.43 L175.07 390.66 Z" fill="#b8fbe6" opacity="0.8"/>
<path d="M170.29 384.25 L170.43 384.02 L170.57 383.79 L177.16 387.16 L177.03 387.36 L176.90 387.57 Z" fill="#b8fbe6" opacity="0.8"/>
<path d="M170.48 383.95 L170.70 383.60 L170.92 383.25 L177.48 386.66 L177.27 386.98 L177.07 387.29 Z" fill="#b8fbe6" opacity="0.8"/>
<path d="M154.30 395.05 L154.96 393.38 L155.67 391.71 L156.40 390.06 L157.18 388.43 L157.98 386.80 L158.82 385.19 L159.70 383.60 L160.61 382.02 L161.55 380.45 L162.52 378.91 L170.43 383.01 L169.54 384.42 L168.68 385.85 L167.85 387.29 L167.06 388.74 L166.29 390.21 L165.55 391.70 L164.85 393.19 L164.18 394.69 L163.53 396.21 L162.93 397.74 Z" fill="#fff"/>
<path d="M159.40 396.64 L159.82 396.41 L159.31 395.88 L160.72 395.97 L161.50 395.86 L161.36 395.46 L162.08 395.34 L161.85 394.90 L161.54 394.43 L162.47 394.39 L162.69 394.10 L163.17 393.91 L161.48 392.94 L163.89 393.45 L163.53 392.96 L163.62 392.63 L164.06 392.43 L163.89 392.00 L164.45 391.85 L164.37 391.45 L164.61 391.18 L165.15 391.03 L165.02 390.61 L165.11 390.28 L165.16 389.93 L165.76 389.81 L165.35 389.27 L164.76 388.66 L165.57 388.63 L166.39 388.61 L166.37 388.23 L166.42 387.88 L166.39 387.49 L166.89 387.34 L166.70 386.88 L166.75 386.53 L167.05 386.29 L167.04 385.91 L166.29 385.17 L167.78 385.50 L167.25 384.86 L167.58 384.64 L167.41 384.18 L167.21 383.69 L167.70 383.54 L167.30 382.96 L167.79 382.81 L167.78 382.42 L167.66 381.96 L167.27 381.37 L170.43 383.01 L169.33 384.78 L168.27 386.57 L167.25 388.38 L166.29 390.21 L165.37 392.07 L164.51 393.94 L163.69 395.83 L162.93 397.74 Z" fill="#ff800a" stroke="#ff7a00" stroke-width="0.35" stroke-linejoin="round"/>
<path d="M154.30 395.05 L154.96 393.38 L155.67 391.71 L156.40 390.06 L157.18 388.43 L157.98 386.80 L158.82 385.19 L159.70 383.60 L160.61 382.02 L161.55 380.45 L162.52 378.91 L177.96 386.91 L177.15 388.20 L176.37 389.49 L175.61 390.80 L174.89 392.12 L174.19 393.46 L173.52 394.80 L172.88 396.16 L172.27 397.53 L171.69 398.91 L171.14 400.30 Z" fill="none" stroke="#707070" stroke-width="0.6"/>
<path d="M162.93 397.74 L170.43 383.01" fill="none" stroke="#8aa" stroke-width="0.0"/>
<text transform="translate(130.83,375.65) scale(1.114,1) rotate(294.6)" text-anchor="middle" dominant-baseline="central" font-family="'Liberation Sans', sans-serif" font-style="italic" font-size="5.4" fill="#111" stroke="#111" stroke-width="0.06">Chr12</text>
<path d="M174.99 376.61 L175.99 375.36 L177.02 374.12 L178.07 372.89 L179.15 371.69 L180.26 370.50 L181.38 369.33 L182.53 368.18 L183.71 367.04 L184.90 365.93 L186.12 364.84 L187.36 363.76 L188.62 362.71 L194.48 368.47 L193.34 369.43 L192.21 370.40 L191.10 371.40 L190.02 372.41 L188.95 373.44 L187.91 374.48 L186.88 375.55 L185.88 376.63 L184.90 377.72 L183.94 378.83 L183.01 379.96 L182.09 381.10 Z" fill="#78f7cd"/>
<path d="M187.64 364.22 L188.10 363.83 L188.56 363.44 L193.71 368.43 L193.28 368.79 L192.85 369.15 Z" fill="#b8fbe6" opacity="0.8"/>
<path d="M182.64 368.81 L182.91 368.55 L183.17 368.29 L188.75 372.90 L188.50 373.13 L188.26 373.37 Z" fill="#b8fbe6" opacity="0.8"/>
<path d="M176.59 375.46 L177.03 374.94 L177.47 374.42 L183.50 378.53 L183.10 379.01 L182.70 379.49 Z" fill="#b8fbe6" opacity="0.8"/>
<path d="M167.52 371.89 L168.62 370.52 L169.75 369.16 L170.90 367.82 L172.08 366.49 L173.29 365.19 L174.53 363.91 L175.79 362.65 L177.08 361.41 L178.39 360.19 L179.72 358.99 L181.08 357.81 L182.47 356.65 L188.62 362.71 L187.36 363.76 L186.12 364.84 L184.90 365.93 L183.71 367.04 L182.53 368.18 L181.38 369.33 L180.26 370.50 L179.15 371.69 L178.07 372.89 L177.02 374.12 L175.99 375.36 L174.99 376.61 Z" fill="#fff"/>
<path d="M171.80 374.60 L172.59 374.68 L172.46 374.18 L173.22 374.24 L173.78 374.18 L174.22 374.05 L174.40 373.75 L174.59 373.46 L175.64 373.74 L175.62 373.30 L175.62 372.88 L176.60 373.13 L176.26 372.46 L176.76 372.39 L176.82 372.01 L177.25 371.88 L177.81 371.85 L177.91 371.50 L178.47 371.47 L178.13 370.79 L178.66 370.74 L179.03 370.59 L179.43 370.45 L179.26 369.89 L179.91 369.94 L179.77 369.40 L180.18 369.27 L180.17 368.82 L180.75 368.83 L181.13 368.68 L181.38 368.44 L181.58 368.15 L181.80 367.87 L181.03 366.79 L182.31 367.39 L182.34 366.96 L182.89 366.96 L183.04 366.63 L182.34 365.57 L183.10 365.75 L183.55 365.68 L183.61 365.26 L183.69 364.86 L184.00 364.66 L184.02 364.20 L184.87 364.49 L185.15 364.27 L184.71 363.39 L184.82 363.00 L185.64 363.27 L185.54 362.69 L185.27 361.94 L185.69 361.84 L185.52 361.19 L186.04 361.18 L186.31 360.94 L185.79 359.93 L188.62 362.71 L186.74 364.30 L184.90 365.93 L183.12 367.61 L181.38 369.33 L179.70 371.09 L178.07 372.89 L176.50 374.73 L174.99 376.61 Z" fill="#ff800a" stroke="#ff7a00" stroke-width="0.35" stroke-linejoin="round"/>
<path d="M167.52 371.89 L168.62 370.52 L169.75 369.16 L170.90 367.82 L172.08 366.49 L173.29 365.19 L174.53 363.91 L175.79 362.65 L177.08 361.41 L178.39 360.19 L179.72 358.99 L181.08 357.81 L182.47 356.65 L194.48 368.47 L193.34 369.43 L192.21 370.40 L191.10 371.40 L190.02 372.41 L188.95 373.44 L187.91 374.48 L186.88 375.55 L185.88 376.63 L184.90 377.72 L183.94 378.83 L183.01 379.96 L182.09 381.10 Z" fill="none" stroke="#707070" stroke-width="0.6"/>
<path d="M174.99 376.61 L188.62 362.71" fill="none" stroke="#8aa" stroke-width="0.0"/>
<text transform="translate(152.12,346.20) scale(1.114,1) rotate(311.4)" text-anchor="middle" dominant-baseline="central" font-family="'Liberation Sans', sans-serif" font-style="italic" font-size="5.4" fill="#111" stroke="#111" stroke-width="0.06">Chr13</text>
<path d="M195.12 357.85 L196.48 356.93 L197.86 356.04 L199.26 355.17 L200.67 354.32 L202.10 353.50 L203.55 352.70 L205.01 351.92 L206.49 351.17 L207.98 350.43 L209.49 349.73 L211.01 349.05 L212.55 348.39 L214.09 347.76 L217.62 354.88 L216.22 355.46 L214.82 356.06 L213.44 356.68 L212.07 357.32 L210.72 357.98 L209.37 358.67 L208.04 359.37 L206.73 360.10 L205.43 360.85 L204.14 361.62 L202.87 362.41 L201.62 363.22 L200.38 364.05 Z" fill="#78f7cd"/>
<path d="M212.49 348.96 L213.14 348.69 L213.79 348.43 L216.91 354.62 L216.31 354.87 L215.72 355.12 Z" fill="#b8fbe6" opacity="0.8"/>
<path d="M197.08 357.16 L197.50 356.88 L197.93 356.61 L202.32 362.15 L201.93 362.40 L201.54 362.65 Z" fill="#b8fbe6" opacity="0.8"/>
<path d="M189.58 351.32 L191.07 350.32 L192.59 349.34 L194.12 348.39 L195.67 347.46 L197.24 346.56 L198.82 345.68 L200.43 344.83 L202.05 344.00 L203.68 343.20 L205.34 342.43 L207.00 341.68 L208.69 340.96 L210.38 340.26 L214.09 347.76 L212.55 348.39 L211.01 349.05 L209.49 349.73 L207.98 350.43 L206.49 351.17 L205.01 351.92 L203.55 352.70 L202.10 353.50 L200.67 354.32 L199.26 355.17 L197.86 356.04 L196.48 356.93 L195.12 357.85 Z" fill="#fff"/>
<path d="M193.20 355.58 L193.52 355.40 L193.66 355.00 L194.27 355.16 L194.30 354.63 L194.96 354.86 L195.57 355.03 L195.96 354.94 L196.41 354.92 L196.80 354.84 L196.92 354.40 L197.25 354.23 L197.60 354.10 L198.43 354.58 L198.83 354.52 L199.00 354.15 L199.11 353.69 L199.36 353.43 L200.16 353.91 L200.01 353.09 L200.77 353.53 L201.02 353.26 L201.14 352.80 L201.62 352.86 L201.95 352.71 L202.28 352.55 L202.67 352.48 L202.99 352.31 L203.30 352.13 L203.54 351.84 L203.94 351.79 L204.08 351.36 L204.25 350.94 L204.62 350.85 L204.98 350.74 L205.47 350.84 L205.87 350.79 L206.13 350.53 L206.52 350.47 L206.46 349.68 L206.95 349.79 L207.33 349.71 L207.67 349.58 L207.73 348.96 L207.83 348.41 L208.66 349.12 L208.68 348.42 L209.28 348.73 L209.39 348.18 L209.54 347.70 L209.88 347.56 L210.46 347.85 L210.50 347.16 L210.34 346.08 L211.09 346.70 L211.17 346.05 L211.69 346.24 L211.81 345.67 L212.30 345.81 L212.25 344.88 L212.53 344.60 L214.09 347.76 L211.59 348.80 L209.11 349.90 L206.68 351.07 L204.28 352.31 L201.92 353.60 L199.61 354.96 L197.34 356.37 L195.12 357.85 Z" fill="#ff800a" stroke="#ff7a00" stroke-width="0.35" stroke-linejoin="round"/>
<path d="M189.58 351.32 L191.07 350.32 L192.59 349.34 L194.12 348.39 L195.67 347.46 L197.24 346.56 L198.82 345.68 L200.43 344.83 L202.05 344.00 L203.68 343.20 L205.34 342.43 L207.00 341.68 L208.69 340.96 L210.38 340.26 L217.62 354.88 L216.22 355.46 L214.82 356.06 L213.44 356.68 L212.07 357.32 L210.72 357.98 L209.37 358.67 L208.04 359.37 L206.73 360.10 L205.43 360.85 L204.14 361.62 L202.87 362.41 L201.62 363.22 L200.38 364.05 Z" fill="none" stroke="#707070" stroke-width="0.6"/>
<path d="M195.12 357.85 L214.09 347.76" fill="none" stroke="#8aa" stroke-width="0.0"/>
<text transform="translate(184.41,322.19) scale(1.114,1) rotate(329.4)" text-anchor="middle" dominant-baseline="central" font-family="'Liberation Sans', sans-serif" font-style="italic" font-size="5.4" fill="#111" stroke="#111" stroke-width="0.06">Chr14</text>
<path d="M221.97 344.98 L223.55 344.51 L225.14 344.07 L226.74 343.65 L228.34 343.25 L229.96 342.88 L231.58 342.53 L233.21 342.21 L234.84 341.92 L236.48 341.65 L238.13 341.41 L239.78 341.19 L241.43 341.00 L243.09 340.84 L244.75 340.70 L245.47 348.47 L243.97 348.60 L242.46 348.75 L240.96 348.92 L239.46 349.12 L237.97 349.34 L236.48 349.58 L234.99 349.85 L233.51 350.14 L232.04 350.45 L230.57 350.79 L229.11 351.15 L227.66 351.53 L226.21 351.94 L224.78 352.37 Z" fill="#78f7cd"/>
<path d="M240.37 341.63 L240.79 341.58 L241.22 341.53 L242.14 348.28 L241.75 348.32 L241.36 348.37 Z" fill="#b8fbe6" opacity="0.8"/>
<path d="M226.29 344.28 L226.70 344.17 L227.12 344.07 L229.17 350.61 L228.79 350.71 L228.41 350.81 Z" fill="#b8fbe6" opacity="0.8"/>
<path d="M235.33 342.35 L235.57 342.31 L235.82 342.26 L237.17 348.96 L236.95 348.99 L236.72 349.03 Z" fill="#b8fbe6" opacity="0.8"/>
<path d="M233.74 342.63 L234.20 342.54 L234.66 342.46 L236.11 349.14 L235.68 349.21 L235.26 349.29 Z" fill="#b8fbe6" opacity="0.8"/>
<path d="M219.01 337.23 L220.75 336.71 L222.49 336.22 L224.24 335.76 L226.00 335.32 L227.77 334.92 L229.55 334.54 L231.34 334.19 L233.13 333.87 L234.92 333.57 L236.73 333.31 L238.53 333.07 L240.35 332.86 L242.16 332.68 L243.98 332.53 L244.75 340.70 L243.09 340.84 L241.43 341.00 L239.78 341.19 L238.13 341.41 L236.48 341.65 L234.84 341.92 L233.21 342.21 L231.58 342.53 L229.96 342.88 L228.34 343.25 L226.74 343.65 L225.14 344.07 L223.55 344.51 L221.97 344.98 Z" fill="#fff"/>
<path d="M220.77 341.85 L221.15 341.78 L221.54 341.74 L222.03 341.96 L221.97 340.70 L222.80 341.88 L223.36 342.33 L223.29 340.97 L224.27 342.67 L224.71 342.81 L224.68 341.51 L225.32 342.28 L225.92 342.91 L226.14 342.38 L226.49 342.25 L226.83 342.07 L227.44 342.80 L227.69 342.35 L228.13 342.51 L228.46 342.34 L228.79 342.12 L229.26 342.42 L229.49 341.86 L229.84 341.73 L230.32 342.07 L230.57 341.58 L231.05 341.93 L231.32 341.50 L231.80 341.88 L232.13 341.68 L232.41 341.27 L232.78 341.19 L233.26 341.60 L233.48 340.92 L233.99 341.46 L234.28 341.09 L234.47 340.16 L234.90 340.37 L235.32 340.56 L235.69 340.52 L236.08 340.57 L236.22 339.28 L236.91 340.93 L237.27 340.84 L237.53 340.13 L238.00 340.68 L238.33 340.41 L238.72 340.44 L239.02 339.99 L239.39 339.92 L239.77 339.88 L240.13 339.79 L240.53 339.96 L240.89 339.82 L241.22 339.41 L241.60 339.39 L241.92 338.93 L242.27 338.68 L242.62 338.44 L242.98 338.18 L243.35 338.11 L243.72 337.95 L244.10 337.92 L244.44 337.40 L244.75 340.70 L241.84 340.96 L238.95 341.30 L236.07 341.72 L233.21 342.21 L230.36 342.79 L227.54 343.44 L224.74 344.18 L221.97 344.98 Z" fill="#ff800a" stroke="#ff7a00" stroke-width="0.35" stroke-linejoin="round"/>
<path d="M219.01 337.23 L220.75 336.71 L222.49 336.22 L224.24 335.76 L226.00 335.32 L227.77 334.92 L229.55 334.54 L231.34 334.19 L233.13 333.87 L234.92 333.57 L236.73 333.31 L238.53 333.07 L240.35 332.86 L242.16 332.68 L243.98 332.53 L245.47 348.47 L243.97 348.60 L242.46 348.75 L240.96 348.92 L239.46 349.12 L237.97 349.34 L236.48 349.58 L234.99 349.85 L233.51 350.14 L232.04 350.45 L230.57 350.79 L229.11 351.15 L227.66 351.53 L226.21 351.94 L224.78 352.37 Z" fill="none" stroke="#707070" stroke-width="0.6"/>
<path d="M221.97 344.98 L244.75 340.70" fill="none" stroke="#8aa" stroke-width="0.0"/>
<text transform="translate(225.21,307.96) scale(1.114,1) rotate(348.2)" text-anchor="middle" dominant-baseline="central" font-family="'Liberation Sans', sans-serif" font-style="italic" font-size="5.4" fill="#111" stroke="#111" stroke-width="0.06">Chr15</text>
<path d="M253.19 340.40 L254.90 340.42 L256.61 340.47 L258.32 340.55 L260.02 340.65 L261.72 340.79 L263.42 340.94 L265.12 341.13 L266.81 341.35 L268.49 341.59 L270.18 341.85 L268.58 349.52 L267.05 349.28 L265.52 349.06 L263.98 348.86 L262.44 348.69 L260.90 348.55 L259.35 348.43 L257.80 348.34 L256.25 348.27 L254.70 348.22 L253.15 348.20 Z" fill="#78f7cd"/>
<path d="M260.09 341.16 L260.79 341.21 L261.49 341.27 L260.79 348.04 L260.14 347.99 L259.49 347.94 Z" fill="#b8fbe6" opacity="0.8"/>
<path d="M256.50 340.97 L257.22 341.00 L257.94 341.03 L257.52 347.82 L256.86 347.79 L256.20 347.76 Z" fill="#b8fbe6" opacity="0.8"/>
<path d="M258.98 341.09 L259.39 341.11 L259.79 341.14 L259.22 347.92 L258.85 347.90 L258.47 347.87 Z" fill="#b8fbe6" opacity="0.8"/>
<path d="M258.15 341.04 L258.83 341.08 L259.51 341.12 L258.97 347.90 L258.34 347.86 L257.71 347.83 Z" fill="#b8fbe6" opacity="0.8"/>
<path d="M253.24 332.20 L255.11 332.23 L256.99 332.28 L258.86 332.36 L260.72 332.48 L262.59 332.62 L264.45 332.80 L266.31 333.00 L268.16 333.24 L270.01 333.50 L271.86 333.79 L270.18 341.85 L268.49 341.59 L266.81 341.35 L265.12 341.13 L263.42 340.94 L261.72 340.79 L260.02 340.65 L258.32 340.55 L256.61 340.47 L254.90 340.42 L253.19 340.40 Z" fill="#fff"/>
<path d="M253.22 336.77 L253.60 337.37 L253.97 337.86 L254.35 337.96 L254.73 338.36 L255.11 338.42 L255.49 338.47 L255.85 338.90 L256.21 339.32 L256.60 339.02 L256.98 338.92 L257.36 339.02 L257.74 338.98 L258.09 339.42 L258.46 339.43 L258.80 339.98 L259.20 339.70 L259.56 339.89 L259.92 340.05 L260.29 340.07 L260.67 340.10 L261.08 339.76 L261.42 340.12 L261.81 339.98 L262.33 338.65 L262.60 339.60 L262.90 340.29 L263.33 339.84 L263.66 340.28 L264.09 339.87 L264.48 339.75 L264.76 340.45 L265.24 339.75 L265.74 338.94 L266.00 339.79 L266.33 340.10 L266.73 339.97 L267.16 339.71 L267.49 340.01 L267.82 340.29 L268.41 339.14 L268.66 339.86 L269.13 339.45 L269.63 338.87 L269.92 339.38 L270.39 338.95 L270.93 338.24 L270.18 341.85 L268.07 341.52 L265.96 341.23 L263.84 340.99 L261.72 340.79 L259.59 340.62 L257.46 340.51 L255.33 340.43 L253.19 340.40 Z" fill="#ff800a" stroke="#ff7a00" stroke-width="0.35" stroke-linejoin="round"/>
<path d="M253.24 332.20 L255.11 332.23 L256.99 332.28 L258.86 332.36 L260.72 332.48 L262.59 332.62 L264.45 332.80 L266.31 333.00 L268.16 333.24 L270.01 333.50 L271.86 333.79 L268.58 349.52 L267.05 349.28 L265.52 349.06 L263.98 348.86 L262.44 348.69 L260.90 348.55 L259.35 348.43 L257.80 348.34 L256.25 348.27 L254.70 348.22 L253.15 348.20 Z" fill="none" stroke="#707070" stroke-width="0.6"/>
<path d="M253.19 340.40 L270.18 341.85" fill="none" stroke="#8aa" stroke-width="0.0"/>
<text transform="translate(265.42,305.94) scale(1.114,1) rotate(365.4)" text-anchor="middle" dominant-baseline="central" font-family="'Liberation Sans', sans-serif" font-style="italic" font-size="5.4" fill="#111" stroke="#111" stroke-width="0.06">Chr16</text>
<path d="M278.41 343.58 L280.05 344.01 L281.68 344.46 L283.30 344.94 L284.91 345.45 L286.51 345.98 L288.10 346.54 L289.68 347.12 L291.24 347.73 L292.80 348.37 L294.34 349.02 L295.86 349.71 L291.92 356.66 L290.53 356.04 L289.13 355.44 L287.72 354.86 L286.29 354.31 L284.86 353.78 L283.42 353.27 L281.96 352.79 L280.50 352.33 L279.03 351.89 L277.55 351.48 L276.06 351.09 Z" fill="#78f7cd"/>
<path d="M287.58 346.89 L288.18 347.11 L288.79 347.33 L285.89 353.61 L285.34 353.41 L284.78 353.21 Z" fill="#b8fbe6" opacity="0.8"/>
<path d="M281.83 345.03 L282.21 345.14 L282.60 345.26 L280.20 351.71 L279.85 351.60 L279.49 351.50 Z" fill="#b8fbe6" opacity="0.8"/>
<path d="M294.55 349.67 L295.13 349.94 L295.72 350.20 L292.27 356.26 L291.73 356.01 L291.19 355.77 Z" fill="#b8fbe6" opacity="0.8"/>
<path d="M287.30 346.79 L287.58 346.89 L287.86 346.99 L285.04 353.30 L284.78 353.21 L284.53 353.12 Z" fill="#b8fbe6" opacity="0.8"/>
<path d="M280.88 335.69 L282.68 336.16 L284.46 336.65 L286.24 337.18 L288.00 337.73 L289.76 338.32 L291.50 338.93 L293.23 339.57 L294.95 340.24 L296.65 340.93 L298.34 341.65 L300.01 342.40 L295.86 349.71 L294.34 349.02 L292.80 348.37 L291.24 347.73 L289.68 347.12 L288.10 346.54 L286.51 345.98 L284.91 345.45 L283.30 344.94 L281.68 344.46 L280.05 344.01 L278.41 343.58 Z" fill="#fff"/>
<path d="M279.52 340.04 L279.78 340.48 L280.08 340.76 L280.15 341.76 L280.55 341.74 L280.75 342.33 L281.19 342.20 L281.41 342.71 L282.13 341.78 L282.17 342.78 L282.75 342.26 L282.83 343.14 L283.09 343.49 L283.36 343.83 L283.61 344.21 L284.04 344.13 L284.39 344.24 L284.59 344.72 L285.13 344.36 L285.29 344.94 L285.73 344.84 L286.11 344.88 L286.74 344.31 L286.69 345.39 L287.05 345.48 L287.37 345.64 L287.95 345.23 L288.08 345.85 L289.01 344.65 L288.87 345.88 L289.15 346.13 L290.03 345.11 L290.02 345.99 L290.40 346.06 L290.50 346.69 L291.14 346.21 L291.50 346.31 L291.62 346.89 L291.92 347.12 L292.58 346.61 L292.92 346.74 L293.03 347.33 L293.43 347.35 L293.88 347.28 L294.21 347.45 L294.75 347.21 L295.03 347.47 L295.82 346.78 L296.00 347.23 L296.47 347.14 L296.82 347.27 L297.45 346.91 L295.86 349.71 L293.76 348.77 L291.63 347.89 L289.48 347.05 L287.30 346.26 L285.11 345.51 L282.89 344.82 L280.66 344.18 L278.41 343.58 Z" fill="#ff800a" stroke="#ff7a00" stroke-width="0.35" stroke-linejoin="round"/>
<path d="M280.88 335.69 L282.68 336.16 L284.46 336.65 L286.24 337.18 L288.00 337.73 L289.76 338.32 L291.50 338.93 L293.23 339.57 L294.95 340.24 L296.65 340.93 L298.34 341.65 L300.01 342.40 L291.92 356.66 L290.53 356.04 L289.13 355.44 L287.72 354.86 L286.29 354.31 L284.86 353.78 L283.42 353.27 L281.96 352.79 L280.50 352.33 L279.03 351.89 L277.55 351.48 L276.06 351.09 Z" fill="none" stroke="#707070" stroke-width="0.6"/>
<path d="M278.41 343.58 L295.86 349.71" fill="none" stroke="#8aa" stroke-width="0.0"/>
<text transform="translate(301.50,313.66) scale(1.114,1) rotate(381.4)" text-anchor="middle" dominant-baseline="central" font-family="'Liberation Sans', sans-serif" font-style="italic" font-size="5.4" fill="#111" stroke="#111" stroke-width="0.06">Chr17</text>
<path d="M303.22 353.45 L304.69 354.30 L306.14 355.17 L307.57 356.06 L308.98 356.97 L310.38 357.91 L311.75 358.87 L313.11 359.86 L314.45 360.86 L315.76 361.89 L317.06 362.94 L318.33 364.01 L319.58 365.10 L320.80 366.21 L322.01 367.35 L323.19 368.50 L316.74 373.73 L315.67 372.68 L314.58 371.65 L313.46 370.64 L312.33 369.65 L311.17 368.68 L309.99 367.73 L308.80 366.79 L307.59 365.88 L306.35 364.98 L305.10 364.11 L303.84 363.26 L302.55 362.43 L301.25 361.62 L299.93 360.83 L298.60 360.06 Z" fill="#78f7cd"/>
<path d="M306.25 355.84 L306.54 356.02 L306.82 356.19 L302.48 361.77 L302.22 361.61 L301.96 361.44 Z" fill="#b8fbe6" opacity="0.8"/>
<path d="M314.26 361.37 L314.74 361.75 L315.22 362.13 L310.20 367.22 L309.76 366.88 L309.32 366.53 Z" fill="#b8fbe6" opacity="0.8"/>
<path d="M314.44 361.52 L314.80 361.80 L315.16 362.08 L310.15 367.18 L309.82 366.92 L309.49 366.67 Z" fill="#b8fbe6" opacity="0.8"/>
<path d="M318.74 365.07 L319.01 365.30 L319.27 365.53 L313.93 370.35 L313.69 370.14 L313.45 369.93 Z" fill="#b8fbe6" opacity="0.8"/>
<path d="M308.07 346.51 L309.68 347.43 L311.27 348.38 L312.84 349.36 L314.39 350.37 L315.92 351.39 L317.43 352.45 L318.92 353.53 L320.38 354.63 L321.82 355.76 L323.24 356.91 L324.64 358.08 L326.01 359.28 L327.35 360.50 L328.67 361.74 L329.97 363.00 L323.19 368.50 L322.01 367.35 L320.80 366.21 L319.58 365.10 L318.33 364.01 L317.06 362.94 L315.76 361.89 L314.45 360.86 L313.11 359.86 L311.75 358.87 L310.38 357.91 L308.98 356.97 L307.57 356.06 L306.14 355.17 L304.69 354.30 L303.22 353.45 Z" fill="#fff"/>
<path d="M305.09 350.77 L305.32 351.10 L305.62 351.30 L305.77 351.72 L306.21 351.75 L306.48 352.00 L306.50 352.59 L306.96 352.58 L306.84 353.35 L306.91 353.86 L307.48 353.71 L307.83 353.85 L308.81 353.18 L308.68 353.94 L308.49 354.77 L308.46 355.39 L310.04 353.98 L309.34 355.44 L309.22 356.15 L309.42 356.47 L310.16 356.14 L310.14 356.73 L310.48 356.87 L310.87 356.97 L311.35 356.96 L311.26 357.61 L311.75 357.58 L311.76 358.12 L312.17 358.19 L312.41 358.45 L312.63 358.74 L312.92 358.95 L313.21 359.16 L313.56 359.30 L313.86 359.49 L314.07 359.79 L314.52 359.83 L315.07 359.76 L314.92 360.44 L315.35 360.50 L315.74 360.61 L316.21 360.63 L316.37 360.97 L316.75 361.09 L316.81 361.53 L317.38 361.47 L317.14 362.20 L317.82 362.03 L318.21 362.14 L318.38 362.47 L318.59 362.77 L318.82 363.03 L319.44 362.93 L319.29 363.55 L319.86 363.51 L320.13 363.74 L320.49 363.89 L320.81 364.08 L321.22 364.19 L321.11 364.76 L321.93 364.50 L321.78 365.11 L322.60 364.86 L322.56 365.37 L322.86 365.58 L323.17 365.78 L323.59 365.89 L324.25 365.80 L325.81 364.97 L324.78 366.29 L325.64 366.04 L326.08 366.15 L323.19 368.50 L320.96 366.35 L318.64 364.28 L316.25 362.28 L313.78 360.36 L311.24 358.51 L308.63 356.74 L305.96 355.06 L303.22 353.45 Z" fill="#ff800a" stroke="#ff7a00" stroke-width="0.35" stroke-linejoin="round"/>
<path d="M308.07 346.51 L309.68 347.43 L311.27 348.38 L312.84 349.36 L314.39 350.37 L315.92 351.39 L317.43 352.45 L318.92 353.53 L320.38 354.63 L321.82 355.76 L323.24 356.91 L324.64 358.08 L326.01 359.28 L327.35 360.50 L328.67 361.74 L329.97 363.00 L316.74 373.73 L315.67 372.68 L314.58 371.65 L313.46 370.64 L312.33 369.65 L311.17 368.68 L309.99 367.73 L308.80 366.79 L307.59 365.88 L306.35 364.98 L305.10 364.11 L303.84 363.26 L302.55 362.43 L301.25 361.62 L299.93 360.83 L298.60 360.06 Z" fill="none" stroke="#707070" stroke-width="0.6"/>
<path d="M303.22 353.45 L323.19 368.50" fill="none" stroke="#8aa" stroke-width="0.0"/>
<text transform="translate(338.84,333.55) scale(1.114,1) rotate(400.0)" text-anchor="middle" dominant-baseline="central" font-family="'Liberation Sans', sans-serif" font-style="italic" font-size="5.4" fill="#111" stroke="#111" stroke-width="0.06">Chr18</text>
<path d="M328.58 374.35 L329.62 375.62 L330.64 376.91 L331.64 378.21 L332.60 379.53 L333.54 380.87 L334.45 382.22 L335.33 383.58 L336.19 384.97 L337.01 386.36 L337.81 387.77 L338.58 389.19 L339.32 390.62 L340.03 392.07 L332.04 395.14 L331.40 393.83 L330.73 392.53 L330.03 391.24 L329.31 389.96 L328.55 388.69 L327.78 387.44 L326.98 386.19 L326.15 384.97 L325.30 383.75 L324.42 382.55 L323.51 381.37 L322.59 380.20 L321.64 379.04 Z" fill="#78f7cd"/>
<path d="M332.60 380.45 L332.94 380.95 L333.28 381.45 L326.82 384.99 L326.51 384.54 L326.19 384.08 Z" fill="#b8fbe6" opacity="0.8"/>
<path d="M334.92 383.94 L335.23 384.43 L335.53 384.92 L328.89 388.19 L328.61 387.74 L328.33 387.29 Z" fill="#b8fbe6" opacity="0.8"/>
<path d="M335.87 369.41 L337.02 370.80 L338.13 372.22 L339.22 373.64 L340.28 375.09 L341.31 376.56 L342.31 378.04 L343.28 379.54 L344.21 381.05 L345.12 382.58 L345.99 384.12 L346.84 385.68 L347.65 387.25 L348.42 388.84 L340.03 392.07 L339.32 390.62 L338.58 389.19 L337.81 387.77 L337.01 386.36 L336.19 384.97 L335.33 383.58 L334.45 382.22 L333.54 380.87 L332.60 379.53 L331.64 378.21 L330.64 376.91 L329.62 375.62 L328.58 374.35 Z" fill="#fff"/>
<path d="M331.23 372.56 L331.61 372.72 L331.79 373.03 L331.27 373.80 L331.53 374.05 L331.33 374.60 L331.52 374.89 L331.83 375.12 L331.81 375.54 L331.94 375.87 L333.14 375.53 L332.51 376.34 L332.60 376.69 L332.60 377.10 L332.67 377.46 L332.55 377.94 L332.54 378.35 L333.26 378.32 L333.68 378.48 L333.23 379.14 L334.50 378.81 L334.11 379.43 L333.74 380.03 L334.47 380.02 L334.14 380.60 L334.82 380.61 L334.55 381.15 L335.20 381.19 L334.96 381.71 L335.15 381.99 L336.27 381.79 L335.77 382.45 L336.03 382.70 L336.43 382.87 L336.21 383.38 L336.21 383.76 L336.39 384.05 L336.57 384.34 L337.40 384.32 L336.92 384.93 L337.10 385.22 L337.27 385.52 L338.08 385.52 L337.87 385.99 L338.31 386.16 L338.30 386.55 L338.53 386.81 L339.13 386.92 L338.73 387.47 L339.24 387.62 L339.40 387.92 L339.41 388.29 L340.04 388.40 L340.75 388.47 L341.11 388.69 L341.06 389.09 L340.83 389.56 L341.69 389.58 L341.99 389.83 L342.25 390.10 L342.44 390.40 L344.16 390.10 L343.58 390.70 L340.03 392.07 L338.86 389.73 L337.62 387.42 L336.29 385.14 L334.90 382.90 L333.42 380.70 L331.88 378.54 L330.26 376.42 L328.58 374.35 Z" fill="#ff800a" stroke="#ff7a00" stroke-width="0.35" stroke-linejoin="round"/>
<path d="M335.87 369.41 L337.02 370.80 L338.13 372.22 L339.22 373.64 L340.28 375.09 L341.31 376.56 L342.31 378.04 L343.28 379.54 L344.21 381.05 L345.12 382.58 L345.99 384.12 L346.84 385.68 L347.65 387.25 L348.42 388.84 L332.04 395.14 L331.40 393.83 L330.73 392.53 L330.03 391.24 L329.31 389.96 L328.55 388.69 L327.78 387.44 L326.98 386.19 L326.15 384.97 L325.30 383.75 L324.42 382.55 L323.51 381.37 L322.59 380.20 L321.64 379.04 Z" fill="none" stroke="#707070" stroke-width="0.6"/>
<path d="M328.58 374.35 L340.03 392.07" fill="none" stroke="#8aa" stroke-width="0.0"/>
<text transform="translate(368.62,365.34) scale(1.114,1) rotate(419.9)" text-anchor="middle" dominant-baseline="central" font-family="'Liberation Sans', sans-serif" font-style="italic" font-size="5.4" fill="#111" stroke="#111" stroke-width="0.06">Chr19</text>
<path d="M343.01 399.17 L343.51 400.59 L343.99 402.02 L344.44 403.46 L344.86 404.90 L345.25 406.35 L345.61 407.80 L345.94 409.26 L346.25 410.73 L346.53 412.20 L346.78 413.67 L346.99 415.15 L347.19 416.63 L347.35 418.12 L338.69 418.81 L338.55 417.46 L338.37 416.12 L338.17 414.77 L337.95 413.43 L337.70 412.10 L337.42 410.77 L337.11 409.44 L336.78 408.12 L336.43 406.80 L336.05 405.49 L335.64 404.19 L335.21 402.89 L334.75 401.60 Z" fill="#78f7cd"/>
<path d="M343.57 402.53 L343.72 403.00 L343.86 403.46 L336.55 405.24 L336.42 404.82 L336.29 404.39 Z" fill="#b8fbe6" opacity="0.8"/>
<path d="M345.45 409.59 L345.58 410.22 L345.71 410.85 L338.25 412.04 L338.13 411.46 L338.01 410.88 Z" fill="#b8fbe6" opacity="0.8"/>
<path d="M351.69 396.62 L352.24 398.18 L352.77 399.74 L353.26 401.32 L353.71 402.90 L354.14 404.49 L354.54 406.08 L354.91 407.68 L355.24 409.29 L355.55 410.90 L355.82 412.52 L356.06 414.14 L356.27 415.76 L356.45 417.39 L347.35 418.12 L347.19 416.63 L346.99 415.15 L346.78 413.67 L346.53 412.20 L346.25 410.73 L345.94 409.26 L345.61 407.80 L345.25 406.35 L344.86 404.90 L344.44 403.46 L343.99 402.02 L343.51 400.59 L343.01 399.17 Z" fill="#fff"/>
<path d="M346.36 398.19 L346.30 398.56 L345.95 399.02 L345.81 399.41 L345.73 399.79 L346.08 400.04 L346.03 400.41 L345.52 400.90 L345.80 401.18 L345.96 401.48 L345.77 401.88 L345.87 402.20 L345.31 402.69 L345.70 402.94 L346.17 403.17 L346.21 403.51 L345.72 403.97 L345.85 404.28 L345.53 404.70 L345.58 405.03 L346.08 405.26 L346.86 405.43 L346.56 405.84 L345.92 406.31 L346.65 406.50 L346.80 406.81 L346.16 407.28 L346.29 407.59 L346.88 407.82 L347.74 408.00 L346.47 408.58 L346.77 408.86 L346.80 409.19 L346.73 409.54 L346.78 409.87 L346.82 410.20 L346.88 410.53 L349.01 410.53 L347.22 411.15 L347.36 411.46 L347.20 411.82 L348.01 412.04 L347.84 412.40 L347.87 412.73 L348.42 413.00 L347.77 413.42 L347.65 413.77 L348.28 414.03 L347.96 414.40 L348.17 414.71 L348.95 414.96 L349.35 415.25 L349.39 415.59 L349.11 415.96 L349.65 416.24 L349.90 416.56 L349.74 416.91 L350.10 417.22 L350.94 417.49 L350.97 417.83 L347.35 418.12 L347.07 415.71 L346.72 413.31 L346.29 410.91 L345.78 408.53 L345.20 406.17 L344.54 403.82 L343.81 401.48 L343.01 399.17 Z" fill="#ff800a" stroke="#ff7a00" stroke-width="0.35" stroke-linejoin="round"/>
<path d="M351.69 396.62 L352.24 398.18 L352.77 399.74 L353.26 401.32 L353.71 402.90 L354.14 404.49 L354.54 406.08 L354.91 407.68 L355.24 409.29 L355.55 410.90 L355.82 412.52 L356.06 414.14 L356.27 415.76 L356.45 417.39 L338.69 418.81 L338.55 417.46 L338.37 416.12 L338.17 414.77 L337.95 413.43 L337.70 412.10 L337.42 410.77 L337.11 409.44 L336.78 408.12 L336.43 406.80 L336.05 405.49 L335.64 404.19 L335.21 402.89 L334.75 401.60 Z" fill="none" stroke="#707070" stroke-width="0.6"/>
<path d="M343.01 399.17 L347.35 418.12" fill="none" stroke="#8aa" stroke-width="0.0"/>
<text transform="translate(383.97,401.49) scale(1.114,1) rotate(438.4)" text-anchor="middle" dominant-baseline="central" font-family="'Liberation Sans', sans-serif" font-style="italic" font-size="5.4" fill="#111" stroke="#111" stroke-width="0.06">Chr20</text>
<path d="M320.15 496.95 L320.87 497.71 L325.84 496.43 L326.29 496.86" fill="none" stroke="#666" stroke-width="0.35"/>
<text transform="translate(326.52,497.08) scale(1.114,1) rotate(47.1)" text-anchor="start" dominant-baseline="central" font-family="'Liberation Serif', serif" font-style="italic" font-size="3.7" fill="#111" stroke="#111" stroke-width="0.05">GmCCS1</text>
<path d="M318.71 498.03 L319.41 498.80 L322.62 499.00 L323.05 499.46" fill="none" stroke="#666" stroke-width="0.35"/>
<text transform="translate(323.27,499.69) scale(1.114,1) rotate(49.4)" text-anchor="start" dominant-baseline="central" font-family="'Liberation Serif', serif" font-style="italic" font-size="3.7" fill="#111" stroke="#111" stroke-width="0.05">GmCCS2</text>
<path d="M318.40 498.25 L319.10 499.03 L319.28 501.46 L319.70 501.93" fill="none" stroke="#666" stroke-width="0.35"/>
<text transform="translate(319.90,502.17) scale(1.114,1) rotate(51.7)" text-anchor="start" dominant-baseline="central" font-family="'Liberation Serif', serif" font-style="italic" font-size="3.7" fill="#111" stroke="#111" stroke-width="0.05">GmCCS3</text>
<path d="M318.09 498.48 L318.79 499.25 L315.84 503.80 L316.23 504.29" fill="none" stroke="#666" stroke-width="0.35"/>
<text transform="translate(316.43,504.53) scale(1.114,1) rotate(54.0)" text-anchor="start" dominant-baseline="central" font-family="'Liberation Serif', serif" font-style="italic" font-size="3.7" fill="#111" stroke="#111" stroke-width="0.05">GmCCS4</text>
<path d="M290.06 512.98 L290.46 513.91 L292.98 515.17 L293.23 515.73" fill="none" stroke="#666" stroke-width="0.35"/>
<text transform="translate(293.36,516.00) scale(1.114,1) rotate(68.0)" text-anchor="start" dominant-baseline="central" font-family="'Liberation Serif', serif" font-style="italic" font-size="3.7" fill="#111" stroke="#111" stroke-width="0.05">GmCCS5</text>
<path d="M289.51 513.17 L289.90 514.10 L288.95 516.55 L289.18 517.11" fill="none" stroke="#666" stroke-width="0.35"/>
<text transform="translate(289.29,517.40) scale(1.114,1) rotate(70.3)" text-anchor="start" dominant-baseline="central" font-family="'Liberation Serif', serif" font-style="italic" font-size="3.7" fill="#111" stroke="#111" stroke-width="0.05">GmCCS6</text>
<path d="M276.35 516.76 L276.60 517.73 L278.86 519.30 L279.02 519.88" fill="none" stroke="#666" stroke-width="0.35"/>
<text transform="translate(279.10,520.17) scale(1.114,1) rotate(75.9)" text-anchor="start" dominant-baseline="central" font-family="'Liberation Serif', serif" font-style="italic" font-size="3.7" fill="#111" stroke="#111" stroke-width="0.05">GmCCS7</text>
<path d="M275.67 516.90 L275.92 517.87 L274.65 520.17 L274.79 520.75" fill="none" stroke="#666" stroke-width="0.35"/>
<text transform="translate(274.86,521.05) scale(1.114,1) rotate(78.2)" text-anchor="start" dominant-baseline="central" font-family="'Liberation Serif', serif" font-style="italic" font-size="3.7" fill="#111" stroke="#111" stroke-width="0.05">GmCCS8</text>
<path d="M261.33 518.88 L261.42 519.88 L261.60 521.87 L261.66 522.47" fill="none" stroke="#666" stroke-width="0.35"/>
<text transform="translate(261.69,522.77) scale(1.114,1) rotate(85.2)" text-anchor="start" dominant-baseline="central" font-family="'Liberation Serif', serif" font-style="italic" font-size="3.7" fill="#111" stroke="#111" stroke-width="0.05">GmCCS9</text>
<path d="M149.37 437.45 L148.26 437.58 L146.05 437.83 L145.39 437.91" fill="none" stroke="#666" stroke-width="0.35"/>
<text transform="translate(145.06,437.94) scale(1.114,1) rotate(-7.2)" text-anchor="end" dominant-baseline="central" font-family="'Liberation Serif', serif" font-style="italic" font-size="3.7" fill="#111" stroke="#111" stroke-width="0.05">GmCCS10</text>
<path d="M148.65 430.03 L147.54 430.08 L145.31 430.17 L144.65 430.20" fill="none" stroke="#666" stroke-width="0.35"/>
<text transform="translate(144.31,430.21) scale(1.114,1) rotate(-2.7)" text-anchor="end" dominant-baseline="central" font-family="'Liberation Serif', serif" font-style="italic" font-size="3.7" fill="#111" stroke="#111" stroke-width="0.05">GmCCS11</text>
<path d="M149.20 415.23 L148.09 415.11 L145.82 415.33 L145.16 415.26" fill="none" stroke="#666" stroke-width="0.35"/>
<text transform="translate(144.83,415.23) scale(1.114,1) rotate(6.2)" text-anchor="end" dominant-baseline="central" font-family="'Liberation Serif', serif" font-style="italic" font-size="3.7" fill="#111" stroke="#111" stroke-width="0.05">GmCCS12</text>
<path d="M150.54 407.47 L149.45 407.27 L146.37 411.49 L145.71 411.40" fill="none" stroke="#666" stroke-width="0.35"/>
<text transform="translate(145.38,411.35) scale(1.114,1) rotate(8.5)" text-anchor="end" dominant-baseline="central" font-family="'Liberation Serif', serif" font-style="italic" font-size="3.7" fill="#111" stroke="#111" stroke-width="0.05">GmCCS13</text>
<path d="M150.69 406.82 L149.60 406.62 L147.09 407.67 L146.44 407.55" fill="none" stroke="#666" stroke-width="0.35"/>
<text transform="translate(146.11,407.50) scale(1.114,1) rotate(10.8)" text-anchor="end" dominant-baseline="central" font-family="'Liberation Serif', serif" font-style="italic" font-size="3.7" fill="#111" stroke="#111" stroke-width="0.05">GmCCS14</text>
<path d="M150.84 406.17 L149.75 405.96 L147.98 403.88 L147.33 403.74" fill="none" stroke="#666" stroke-width="0.35"/>
<text transform="translate(147.01,403.67) scale(1.114,1) rotate(13.1)" text-anchor="end" dominant-baseline="central" font-family="'Liberation Serif', serif" font-style="italic" font-size="3.7" fill="#111" stroke="#111" stroke-width="0.05">GmCCS15</text>
<path d="M151.00 405.52 L149.91 405.30 L149.04 400.12 L148.40 399.96" fill="none" stroke="#666" stroke-width="0.35"/>
<text transform="translate(148.08,399.88) scale(1.114,1) rotate(15.4)" text-anchor="end" dominant-baseline="central" font-family="'Liberation Serif', serif" font-style="italic" font-size="3.7" fill="#111" stroke="#111" stroke-width="0.05">GmCCS16</text>
<path d="M155.24 392.72 L154.20 392.36 L151.51 393.13 L150.88 392.93" fill="none" stroke="#666" stroke-width="0.35"/>
<text transform="translate(150.56,392.83) scale(1.114,1) rotate(19.7)" text-anchor="end" dominant-baseline="central" font-family="'Liberation Serif', serif" font-style="italic" font-size="3.7" fill="#111" stroke="#111" stroke-width="0.05">GmCCS17</text>
<path d="M155.52 392.05 L154.48 391.69 L153.04 389.51 L152.42 389.29" fill="none" stroke="#666" stroke-width="0.35"/>
<text transform="translate(152.11,389.17) scale(1.114,1) rotate(22.0)" text-anchor="end" dominant-baseline="central" font-family="'Liberation Serif', serif" font-style="italic" font-size="3.7" fill="#111" stroke="#111" stroke-width="0.05">GmCCS18</text>
<path d="M161.01 381.34 L160.03 380.87 L157.44 380.98 L156.85 380.70" fill="none" stroke="#666" stroke-width="0.35"/>
<text transform="translate(156.55,380.56) scale(1.114,1) rotate(27.6)" text-anchor="end" dominant-baseline="central" font-family="'Liberation Serif', serif" font-style="italic" font-size="3.7" fill="#111" stroke="#111" stroke-width="0.05">GmCCS19</text>
<path d="M161.77 380.10 L160.80 379.61 L159.51 377.59 L158.93 377.29" fill="none" stroke="#666" stroke-width="0.35"/>
<text transform="translate(158.65,377.14) scale(1.114,1) rotate(29.9)" text-anchor="end" dominant-baseline="central" font-family="'Liberation Serif', serif" font-style="italic" font-size="3.7" fill="#111" stroke="#111" stroke-width="0.05">GmCCS20</text>
<path d="M180.07 358.68 L179.29 357.97 L177.74 356.53 L177.27 356.10" fill="none" stroke="#666" stroke-width="0.35"/>
<text transform="translate(177.04,355.89) scale(1.114,1) rotate(45.8)" text-anchor="end" dominant-baseline="central" font-family="'Liberation Serif', serif" font-style="italic" font-size="3.7" fill="#111" stroke="#111" stroke-width="0.05">GmCCS21</text>
<path d="M268.35 333.26 L268.52 332.27 L267.12 330.07 L267.21 329.48" fill="none" stroke="#666" stroke-width="0.35"/>
<text transform="translate(267.26,329.18) scale(1.114,1) rotate(277.7)" text-anchor="start" dominant-baseline="central" font-family="'Liberation Serif', serif" font-style="italic" font-size="3.7" fill="#111" stroke="#111" stroke-width="0.05">GmCCS22</text>
<path d="M269.13 333.37 L269.31 332.38 L271.39 330.67 L271.50 330.08" fill="none" stroke="#666" stroke-width="0.35"/>
<text transform="translate(271.56,329.78) scale(1.114,1) rotate(280.0)" text-anchor="start" dominant-baseline="central" font-family="'Liberation Serif', serif" font-style="italic" font-size="3.7" fill="#111" stroke="#111" stroke-width="0.05">GmCCS23</text>
<path d="M347.06 386.10 L348.07 385.68 L346.10 377.93 L346.69 377.63" fill="none" stroke="#666" stroke-width="0.35"/>
<text transform="translate(346.98,377.48) scale(1.114,1) rotate(330.3)" text-anchor="start" dominant-baseline="central" font-family="'Liberation Serif', serif" font-style="italic" font-size="3.7" fill="#111" stroke="#111" stroke-width="0.05">GmCCS24</text>
<path d="M348.00 387.96 L349.02 387.56 L348.17 381.33 L348.76 381.06" fill="none" stroke="#666" stroke-width="0.35"/>
<text transform="translate(349.06,380.92) scale(1.114,1) rotate(332.6)" text-anchor="start" dominant-baseline="central" font-family="'Liberation Serif', serif" font-style="italic" font-size="3.7" fill="#111" stroke="#111" stroke-width="0.05">GmCCS25</text>
<path d="M348.04 388.04 L349.06 387.64 L350.07 384.81 L350.68 384.55" fill="none" stroke="#666" stroke-width="0.35"/>
<text transform="translate(350.98,384.43) scale(1.114,1) rotate(334.9)" text-anchor="start" dominant-baseline="central" font-family="'Liberation Serif', serif" font-style="italic" font-size="3.7" fill="#111" stroke="#111" stroke-width="0.05">GmCCS26</text>
<path d="M348.08 388.12 L349.10 387.72 L351.82 388.35 L352.44 388.12" fill="none" stroke="#666" stroke-width="0.35"/>
<text transform="translate(352.75,388.00) scale(1.114,1) rotate(337.2)" text-anchor="start" dominant-baseline="central" font-family="'Liberation Serif', serif" font-style="italic" font-size="3.7" fill="#111" stroke="#111" stroke-width="0.05">GmCCS27</text>
<path d="M348.12 388.21 L349.14 387.80 L353.41 391.95 L354.04 391.74" fill="none" stroke="#666" stroke-width="0.35"/>
<text transform="translate(354.35,391.63) scale(1.114,1) rotate(339.5)" text-anchor="start" dominant-baseline="central" font-family="'Liberation Serif', serif" font-style="italic" font-size="3.7" fill="#111" stroke="#111" stroke-width="0.05">GmCCS28</text>
<path d="M348.16 388.29 L349.18 387.89 L354.84 395.60 L355.47 395.42" fill="none" stroke="#666" stroke-width="0.35"/>
<text transform="translate(355.79,395.32) scale(1.114,1) rotate(341.8)" text-anchor="start" dominant-baseline="central" font-family="'Liberation Serif', serif" font-style="italic" font-size="3.7" fill="#111" stroke="#111" stroke-width="0.05">GmCCS29</text>
<path d="M356.19 415.14 L357.30 415.02 L359.35 413.56 L360.01 413.48" fill="none" stroke="#666" stroke-width="0.35"/>
<text transform="translate(360.34,413.44) scale(1.114,1) rotate(352.8)" text-anchor="start" dominant-baseline="central" font-family="'Liberation Serif', serif" font-style="italic" font-size="3.7" fill="#111" stroke="#111" stroke-width="0.05">GmCCS30</text>
<path d="M356.35 416.46 L357.46 416.36 L359.80 417.41 L360.47 417.36" fill="none" stroke="#666" stroke-width="0.35"/>
<text transform="translate(360.80,417.33) scale(1.114,1) rotate(355.1)" text-anchor="start" dominant-baseline="central" font-family="'Liberation Serif', serif" font-style="italic" font-size="3.7" fill="#111" stroke="#111" stroke-width="0.05">GmCCS31</text>
</svg>
</body></html>
